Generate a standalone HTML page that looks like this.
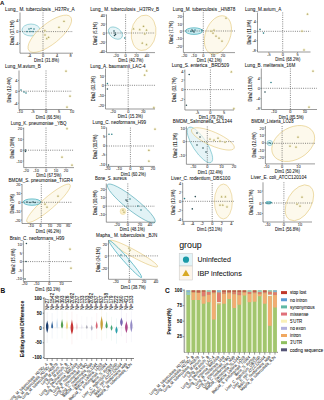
<!DOCTYPE html>
<html><head><meta charset="utf-8"><style>html,body{margin:0;padding:0;background:#fff;}svg{display:block;}text{font-family:"Liberation Sans", sans-serif;stroke:currentColor;stroke-width:0.05px;} .t{}</style></head>
<body><svg width="324" height="400" viewBox="0 0 324 400">
<rect width="324" height="400" fill="#fff"/>
<text transform="translate(0 5.3)" font-size="6.0" text-anchor="start" fill="#111" color="#111" font-weight="bold" font-style="normal">A</text>
<ellipse cx="31" cy="30" rx="9" ry="6" transform="rotate(0 31 30)" fill="#e6f4f7" fill-opacity="1.0" stroke="#4cb0bc" stroke-width="0.5"/>
<ellipse cx="49.8" cy="33.8" rx="26.8" ry="10.3" transform="rotate(-39 49.8 33.8)" fill="#fdf9ec" fill-opacity="1.0" stroke="#dfbf66" stroke-width="0.5"/>
<line x1="43" y1="12.5" x2="43" y2="53.2" stroke="#3a3a3a" stroke-width="0.65" stroke-dasharray="0.95 1.25"/>
<line x1="20" y1="31.6" x2="73" y2="31.6" stroke="#3a3a3a" stroke-width="0.65" stroke-dasharray="0.95 1.25"/>
<circle cx="29" cy="29" r="0.8" fill="#2f8088"/>
<circle cx="31" cy="28.5" r="0.8" fill="#2f8088"/>
<circle cx="34" cy="29" r="0.8" fill="#2f8088"/>
<circle cx="27" cy="31.6" r="0.8" fill="#2f8088"/>
<circle cx="30" cy="31.6" r="0.8" fill="#2f8088"/>
<circle cx="33" cy="31.6" r="0.8" fill="#2f8088"/>
<circle cx="44.9" cy="30.4" r="1.5" fill="#f3efc8" fill-opacity="0.7"/>
<polygon points="43.949999999999996,31.2 45.85,31.2 44.9,29.45" fill="#b0a468"/>
<circle cx="45" cy="34.8" r="1.5" fill="#f3efc8" fill-opacity="0.7"/>
<polygon points="44.05,35.599999999999994 45.95,35.599999999999994 45,33.849999999999994" fill="#b0a468"/>
<circle cx="46.8" cy="38.5" r="1.5" fill="#f3efc8" fill-opacity="0.7"/>
<polygon points="45.849999999999994,39.3 47.75,39.3 46.8,37.55" fill="#b0a468"/>
<circle cx="48.6" cy="37.2" r="1.5" fill="#f3efc8" fill-opacity="0.7"/>
<polygon points="47.65,38.0 49.550000000000004,38.0 48.6,36.25" fill="#b0a468"/>
<circle cx="64" cy="21.2" r="1.5" fill="#f3efc8" fill-opacity="0.7"/>
<polygon points="63.05,22.0 64.95,22.0 64,20.25" fill="#b0a468"/>
<circle cx="59" cy="27.3" r="1.5" fill="#f3efc8" fill-opacity="0.7"/>
<polygon points="58.05,28.1 59.95,28.1 59,26.35" fill="#b0a468"/>
<path d="M20 12.5 V53.2 H73" fill="none" stroke="#555" stroke-width="0.6"/>
<line x1="19" y1="20" x2="20" y2="20" stroke="#555" stroke-width="0.5"/>
<text transform="translate(18.5 21.5) scale(1 1.12)" font-size="3.9" text-anchor="end" fill="#333" color="#333" font-weight="normal" font-style="normal">4</text>
<line x1="19" y1="31.6" x2="20" y2="31.6" stroke="#555" stroke-width="0.5"/>
<text transform="translate(18.5 33.1) scale(1 1.12)" font-size="3.9" text-anchor="end" fill="#333" color="#333" font-weight="normal" font-style="normal">0</text>
<line x1="19" y1="43.5" x2="20" y2="43.5" stroke="#555" stroke-width="0.5"/>
<text transform="translate(18.5 45.0) scale(1 1.12)" font-size="3.9" text-anchor="end" fill="#333" color="#333" font-weight="normal" font-style="normal">-4</text>
<line x1="29.4" y1="53.2" x2="29.4" y2="54.2" stroke="#555" stroke-width="0.5"/>
<text transform="translate(29.4 57.1) scale(1 1.12)" font-size="3.9" text-anchor="middle" fill="#333" color="#333" font-weight="normal" font-style="normal">-4</text>
<line x1="43" y1="53.2" x2="43" y2="54.2" stroke="#555" stroke-width="0.5"/>
<text transform="translate(43 57.1) scale(1 1.12)" font-size="3.9" text-anchor="middle" fill="#333" color="#333" font-weight="normal" font-style="normal">0</text>
<line x1="57" y1="53.2" x2="57" y2="54.2" stroke="#555" stroke-width="0.5"/>
<text transform="translate(57 57.1) scale(1 1.12)" font-size="3.9" text-anchor="middle" fill="#333" color="#333" font-weight="normal" font-style="normal">4</text>
<line x1="70.5" y1="53.2" x2="70.5" y2="54.2" stroke="#555" stroke-width="0.5"/>
<text transform="translate(70.5 57.1) scale(1 1.12)" font-size="3.9" text-anchor="middle" fill="#333" color="#333" font-weight="normal" font-style="normal">8</text>
<text transform="translate(5.1000000000000005 11.35)" font-size="4.75" text-anchor="start" fill="#111" color="#111" font-weight="normal" font-style="normal" textLength="69.60" lengthAdjust="spacingAndGlyphs">Lung_ M. tuberculosis _H37Rv_A</text>
<text transform="translate(46.5 62.400000000000006) scale(1 1.2)" font-size="4.1" text-anchor="middle" fill="#111" color="#111" font-weight="normal" font-style="normal">Dim1 (31.8%)</text>
<text transform="translate(13.8 32.85) rotate(-90) scale(1 1.2)" font-size="4.1" text-anchor="middle" fill="#111" color="#111" font-weight="normal" font-style="normal">Dim2 (17.1%)</text>
<ellipse cx="115.4" cy="33.1" rx="7.8" ry="5.2" transform="rotate(35 115.4 33.1)" fill="#e6f4f7" fill-opacity="1.0" stroke="#4cb0bc" stroke-width="0.5"/>
<ellipse cx="143.6" cy="32.8" rx="12.3" ry="17.8" transform="rotate(8 143.6 32.8)" fill="#fdf9ec" fill-opacity="1.0" stroke="#dfbf66" stroke-width="0.5"/>
<line x1="125.6" y1="14.5" x2="125.6" y2="52.6" stroke="#3a3a3a" stroke-width="0.65" stroke-dasharray="0.95 1.25"/>
<line x1="106.5" y1="33" x2="155" y2="33" stroke="#3a3a3a" stroke-width="0.65" stroke-dasharray="0.95 1.25"/>
<circle cx="114" cy="31" r="0.8" fill="#2b4f55"/>
<circle cx="115" cy="33" r="0.8" fill="#2b4f55"/>
<circle cx="115.5" cy="34.5" r="0.8" fill="#2b4f55"/>
<circle cx="114.5" cy="35.5" r="0.8" fill="#2b4f55"/>
<circle cx="124.75" cy="38" r="0.8" fill="#2f8088"/>
<circle cx="133.5" cy="28.75" r="1.5" fill="#f3efc8" fill-opacity="0.7"/>
<polygon points="132.55,29.55 134.45,29.55 133.5,27.8" fill="#b0a468"/>
<circle cx="139.75" cy="29.5" r="1.5" fill="#f3efc8" fill-opacity="0.7"/>
<polygon points="138.8,30.3 140.7,30.3 139.75,28.55" fill="#b0a468"/>
<circle cx="143.5" cy="26.25" r="1.5" fill="#f3efc8" fill-opacity="0.7"/>
<polygon points="142.55,27.05 144.45,27.05 143.5,25.3" fill="#b0a468"/>
<circle cx="146.5" cy="30" r="1.5" fill="#f3efc8" fill-opacity="0.7"/>
<polygon points="145.55,30.8 147.45,30.8 146.5,29.05" fill="#b0a468"/>
<circle cx="144.75" cy="33.75" r="1.5" fill="#f3efc8" fill-opacity="0.7"/>
<polygon points="143.8,34.55 145.7,34.55 144.75,32.8" fill="#b0a468"/>
<circle cx="142.25" cy="43" r="1.5" fill="#f3efc8" fill-opacity="0.7"/>
<polygon points="141.3,43.8 143.2,43.8 142.25,42.05" fill="#b0a468"/>
<circle cx="146.5" cy="44.5" r="1.5" fill="#f3efc8" fill-opacity="0.7"/>
<polygon points="145.55,45.3 147.45,45.3 146.5,43.55" fill="#b0a468"/>
<path d="M106.5 14.5 V52.6 H155" fill="none" stroke="#555" stroke-width="0.6"/>
<line x1="105.5" y1="15" x2="106.5" y2="15" stroke="#555" stroke-width="0.5"/>
<text transform="translate(105.0 16.5) scale(1 1.12)" font-size="3.9" text-anchor="end" fill="#333" color="#333" font-weight="normal" font-style="normal">40</text>
<line x1="105.5" y1="24" x2="106.5" y2="24" stroke="#555" stroke-width="0.5"/>
<text transform="translate(105.0 25.5) scale(1 1.12)" font-size="3.9" text-anchor="end" fill="#333" color="#333" font-weight="normal" font-style="normal">20</text>
<line x1="105.5" y1="33" x2="106.5" y2="33" stroke="#555" stroke-width="0.5"/>
<text transform="translate(105.0 34.5) scale(1 1.12)" font-size="3.9" text-anchor="end" fill="#333" color="#333" font-weight="normal" font-style="normal">0</text>
<line x1="105.5" y1="42" x2="106.5" y2="42" stroke="#555" stroke-width="0.5"/>
<text transform="translate(105.0 43.5) scale(1 1.12)" font-size="3.9" text-anchor="end" fill="#333" color="#333" font-weight="normal" font-style="normal">-20</text>
<line x1="105.5" y1="51.5" x2="106.5" y2="51.5" stroke="#555" stroke-width="0.5"/>
<text transform="translate(105.0 53.0) scale(1 1.12)" font-size="3.9" text-anchor="end" fill="#333" color="#333" font-weight="normal" font-style="normal">-40</text>
<line x1="116" y1="52.6" x2="116" y2="53.6" stroke="#555" stroke-width="0.5"/>
<text transform="translate(116 56.5) scale(1 1.12)" font-size="3.9" text-anchor="middle" fill="#333" color="#333" font-weight="normal" font-style="normal">-20</text>
<line x1="125.6" y1="52.6" x2="125.6" y2="53.6" stroke="#555" stroke-width="0.5"/>
<text transform="translate(125.6 56.5) scale(1 1.12)" font-size="3.9" text-anchor="middle" fill="#333" color="#333" font-weight="normal" font-style="normal">0</text>
<line x1="136.4" y1="52.6" x2="136.4" y2="53.6" stroke="#555" stroke-width="0.5"/>
<text transform="translate(136.4 56.5) scale(1 1.12)" font-size="3.9" text-anchor="middle" fill="#333" color="#333" font-weight="normal" font-style="normal">20</text>
<line x1="147" y1="52.6" x2="147" y2="53.6" stroke="#555" stroke-width="0.5"/>
<text transform="translate(147 56.5) scale(1 1.12)" font-size="3.9" text-anchor="middle" fill="#333" color="#333" font-weight="normal" font-style="normal">40</text>
<text transform="translate(90.2 11.25)" font-size="4.75" text-anchor="start" fill="#111" color="#111" font-weight="normal" font-style="normal" textLength="68.90" lengthAdjust="spacingAndGlyphs">Lung_ M. tuberculosis _H37Rv_B</text>
<text transform="translate(130.75 61.8) scale(1 1.2)" font-size="4.1" text-anchor="middle" fill="#111" color="#111" font-weight="normal" font-style="normal">Dim1 (40.7%)</text>
<text transform="translate(96.7 33.55) rotate(-90) scale(1 1.2)" font-size="4.1" text-anchor="middle" fill="#111" color="#111" font-weight="normal" font-style="normal">Dim2 (5.1%)</text>
<ellipse cx="194" cy="31.1" rx="8.6" ry="3.3" transform="rotate(0 194 31.1)" fill="#c8eaf0" fill-opacity="1.0" stroke="#30a6b4" stroke-width="0.65"/>
<ellipse cx="217.9" cy="35" rx="12.5" ry="20" transform="rotate(20 217.9 35)" fill="#fdf9ec" fill-opacity="1.0" stroke="#dfbf66" stroke-width="0.5"/>
<line x1="203.3" y1="12.4" x2="203.3" y2="52.6" stroke="#3a3a3a" stroke-width="0.65" stroke-dasharray="0.95 1.25"/>
<line x1="183.4" y1="31" x2="235" y2="31" stroke="#3a3a3a" stroke-width="0.65" stroke-dasharray="0.95 1.25"/>
<circle cx="192" cy="30" r="0.8" fill="#2b4f55"/>
<circle cx="193" cy="31" r="0.8" fill="#2b4f55"/>
<circle cx="194" cy="32" r="0.8" fill="#2b4f55"/>
<circle cx="191" cy="31.5" r="0.8" fill="#2f8088"/>
<circle cx="195" cy="30" r="0.8" fill="#2f8088"/>
<circle cx="202" cy="30" r="0.8" fill="#2f8088"/>
<circle cx="211" cy="31" r="1.5" fill="#f3efc8" fill-opacity="0.7"/>
<polygon points="210.05,31.8 211.95,31.8 211,30.05" fill="#b0a468"/>
<circle cx="214" cy="30" r="1.5" fill="#f3efc8" fill-opacity="0.7"/>
<polygon points="213.05,30.8 214.95,30.8 214,29.05" fill="#b0a468"/>
<circle cx="216" cy="36" r="1.5" fill="#f3efc8" fill-opacity="0.7"/>
<polygon points="215.05,36.8 216.95,36.8 216,35.05" fill="#b0a468"/>
<circle cx="219" cy="38" r="1.5" fill="#f3efc8" fill-opacity="0.7"/>
<polygon points="218.05,38.8 219.95,38.8 219,37.05" fill="#b0a468"/>
<circle cx="222" cy="41" r="1.5" fill="#f3efc8" fill-opacity="0.7"/>
<polygon points="221.05,41.8 222.95,41.8 222,40.05" fill="#b0a468"/>
<circle cx="226" cy="18" r="1.5" fill="#f3efc8" fill-opacity="0.7"/>
<polygon points="225.05,18.8 226.95,18.8 226,17.05" fill="#b0a468"/>
<circle cx="213" cy="33" r="1.5" fill="#f3efc8" fill-opacity="0.7"/>
<polygon points="212.05,33.8 213.95,33.8 213,32.05" fill="#b0a468"/>
<path d="M183.4 12.4 V52.6 H235" fill="none" stroke="#555" stroke-width="0.6"/>
<line x1="182.4" y1="16.6" x2="183.4" y2="16.6" stroke="#555" stroke-width="0.5"/>
<text transform="translate(181.9 18.1) scale(1 1.12)" font-size="3.9" text-anchor="end" fill="#333" color="#333" font-weight="normal" font-style="normal">20</text>
<line x1="182.4" y1="24" x2="183.4" y2="24" stroke="#555" stroke-width="0.5"/>
<text transform="translate(181.9 25.5) scale(1 1.12)" font-size="3.9" text-anchor="end" fill="#333" color="#333" font-weight="normal" font-style="normal">10</text>
<line x1="182.4" y1="31" x2="183.4" y2="31" stroke="#555" stroke-width="0.5"/>
<text transform="translate(181.9 32.5) scale(1 1.12)" font-size="3.9" text-anchor="end" fill="#333" color="#333" font-weight="normal" font-style="normal">0</text>
<line x1="182.4" y1="38.6" x2="183.4" y2="38.6" stroke="#555" stroke-width="0.5"/>
<text transform="translate(181.9 40.1) scale(1 1.12)" font-size="3.9" text-anchor="end" fill="#333" color="#333" font-weight="normal" font-style="normal">-10</text>
<line x1="182.4" y1="46" x2="183.4" y2="46" stroke="#555" stroke-width="0.5"/>
<text transform="translate(181.9 47.5) scale(1 1.12)" font-size="3.9" text-anchor="end" fill="#333" color="#333" font-weight="normal" font-style="normal">-20</text>
<line x1="184.4" y1="52.6" x2="184.4" y2="53.6" stroke="#555" stroke-width="0.5"/>
<text transform="translate(184.4 56.5) scale(1 1.12)" font-size="3.9" text-anchor="middle" fill="#333" color="#333" font-weight="normal" font-style="normal">-20</text>
<line x1="194" y1="52.6" x2="194" y2="53.6" stroke="#555" stroke-width="0.5"/>
<text transform="translate(194 56.5) scale(1 1.12)" font-size="3.9" text-anchor="middle" fill="#333" color="#333" font-weight="normal" font-style="normal">-10</text>
<line x1="203.4" y1="52.6" x2="203.4" y2="53.6" stroke="#555" stroke-width="0.5"/>
<text transform="translate(203.4 56.5) scale(1 1.12)" font-size="3.9" text-anchor="middle" fill="#333" color="#333" font-weight="normal" font-style="normal">0</text>
<line x1="213" y1="52.6" x2="213" y2="53.6" stroke="#555" stroke-width="0.5"/>
<text transform="translate(213 56.5) scale(1 1.12)" font-size="3.9" text-anchor="middle" fill="#333" color="#333" font-weight="normal" font-style="normal">10</text>
<line x1="223" y1="52.6" x2="223" y2="53.6" stroke="#555" stroke-width="0.5"/>
<text transform="translate(223 56.5) scale(1 1.12)" font-size="3.9" text-anchor="middle" fill="#333" color="#333" font-weight="normal" font-style="normal">20</text>
<text transform="translate(172.79999999999998 11.05)" font-size="4.75" text-anchor="start" fill="#111" color="#111" font-weight="normal" font-style="normal" textLength="62.50" lengthAdjust="spacingAndGlyphs">Lung_M. tuberculosis _HN878</text>
<text transform="translate(209.2 61.8) scale(1 1.2)" font-size="4.1" text-anchor="middle" fill="#111" color="#111" font-weight="normal" font-style="normal">Dim1 (42.1%)</text>
<text transform="translate(172.7 32.5) rotate(-90) scale(1 1.2)" font-size="4.1" text-anchor="middle" fill="#111" color="#111" font-weight="normal" font-style="normal">Dim2 (7.7%)</text>
<line x1="282.7" y1="12.5" x2="282.7" y2="52" stroke="#3a3a3a" stroke-width="0.65" stroke-dasharray="0.95 1.25"/>
<line x1="257.5" y1="31.3" x2="310.5" y2="31.3" stroke="#3a3a3a" stroke-width="0.65" stroke-dasharray="0.95 1.25"/>
<circle cx="260" cy="29.4" r="0.8" fill="#2f8088"/>
<circle cx="263.5" cy="33.1" r="0.8" fill="#2f8088"/>
<circle cx="307.5" cy="14" r="1.5" fill="#f3efc8" fill-opacity="0.7"/>
<polygon points="306.55,14.8 308.45,14.8 307.5,13.05" fill="#b0a468"/>
<circle cx="302" cy="31" r="1.5" fill="#f3efc8" fill-opacity="0.7"/>
<polygon points="301.05,31.8 302.95,31.8 302,30.05" fill="#b0a468"/>
<circle cx="304" cy="49.8" r="1.5" fill="#f3efc8" fill-opacity="0.7"/>
<polygon points="303.05,50.599999999999994 304.95,50.599999999999994 304,48.849999999999994" fill="#b0a468"/>
<path d="M257.5 12.5 V52 H310.5" fill="none" stroke="#555" stroke-width="0.6"/>
<line x1="256.5" y1="21.9" x2="257.5" y2="21.9" stroke="#555" stroke-width="0.5"/>
<text transform="translate(256.0 23.4) scale(1 1.12)" font-size="3.9" text-anchor="end" fill="#333" color="#333" font-weight="normal" font-style="normal">4</text>
<line x1="256.5" y1="31.3" x2="257.5" y2="31.3" stroke="#555" stroke-width="0.5"/>
<text transform="translate(256.0 32.8) scale(1 1.12)" font-size="3.9" text-anchor="end" fill="#333" color="#333" font-weight="normal" font-style="normal">0</text>
<line x1="256.5" y1="40.6" x2="257.5" y2="40.6" stroke="#555" stroke-width="0.5"/>
<text transform="translate(256.0 42.1) scale(1 1.12)" font-size="3.9" text-anchor="end" fill="#333" color="#333" font-weight="normal" font-style="normal">-4</text>
<line x1="256.5" y1="50.6" x2="257.5" y2="50.6" stroke="#555" stroke-width="0.5"/>
<text transform="translate(256.0 52.1) scale(1 1.12)" font-size="3.9" text-anchor="end" fill="#333" color="#333" font-weight="normal" font-style="normal">-8</text>
<line x1="268.9" y1="52" x2="268.9" y2="53" stroke="#555" stroke-width="0.5"/>
<text transform="translate(268.9 55.9) scale(1 1.12)" font-size="3.9" text-anchor="middle" fill="#333" color="#333" font-weight="normal" font-style="normal">-5</text>
<line x1="282.8" y1="52" x2="282.8" y2="53" stroke="#555" stroke-width="0.5"/>
<text transform="translate(282.8 55.9) scale(1 1.12)" font-size="3.9" text-anchor="middle" fill="#333" color="#333" font-weight="normal" font-style="normal">0</text>
<line x1="297.6" y1="52" x2="297.6" y2="53" stroke="#555" stroke-width="0.5"/>
<text transform="translate(297.6 55.9) scale(1 1.12)" font-size="3.9" text-anchor="middle" fill="#333" color="#333" font-weight="normal" font-style="normal">5</text>
<text transform="translate(245.0 10.55)" font-size="4.75" text-anchor="start" fill="#111" color="#111" font-weight="normal" font-style="normal" textLength="36.30" lengthAdjust="spacingAndGlyphs">Lung_M.avium_A</text>
<text transform="translate(287.8 61.2) scale(1 1.2)" font-size="4.1" text-anchor="middle" fill="#111" color="#111" font-weight="normal" font-style="normal">Dim1 (68.2%)</text>
<text transform="translate(250.8 32.25) rotate(-90) scale(1 1.2)" font-size="4.1" text-anchor="middle" fill="#111" color="#111" font-weight="normal" font-style="normal">Dim2 (11.9%)</text>
<line x1="46" y1="70.5" x2="46" y2="109.5" stroke="#3a3a3a" stroke-width="0.65" stroke-dasharray="0.95 1.25"/>
<line x1="19" y1="91.2" x2="72" y2="91.2" stroke="#3a3a3a" stroke-width="0.65" stroke-dasharray="0.95 1.25"/>
<circle cx="21" cy="90" r="0.8" fill="#2f8088"/>
<circle cx="24" cy="92" r="0.8" fill="#2f8088"/>
<circle cx="26" cy="93" r="0.8" fill="#2f8088"/>
<circle cx="66" cy="71" r="1.5" fill="#f3efc8" fill-opacity="0.7"/>
<polygon points="65.05,71.8 66.95,71.8 66,70.05" fill="#b0a468"/>
<circle cx="70" cy="96" r="1.5" fill="#f3efc8" fill-opacity="0.7"/>
<polygon points="69.05,96.8 70.95,96.8 70,95.05" fill="#b0a468"/>
<circle cx="67" cy="107" r="1.5" fill="#f3efc8" fill-opacity="0.7"/>
<polygon points="66.05,107.8 67.95,107.8 67,106.05" fill="#b0a468"/>
<path d="M19 70.5 V109.5 H72" fill="none" stroke="#555" stroke-width="0.6"/>
<line x1="18" y1="80.5" x2="19" y2="80.5" stroke="#555" stroke-width="0.5"/>
<text transform="translate(17.5 82.0) scale(1 1.12)" font-size="3.9" text-anchor="end" fill="#333" color="#333" font-weight="normal" font-style="normal">4</text>
<line x1="18" y1="91.3" x2="19" y2="91.3" stroke="#555" stroke-width="0.5"/>
<text transform="translate(17.5 92.8) scale(1 1.12)" font-size="3.9" text-anchor="end" fill="#333" color="#333" font-weight="normal" font-style="normal">0</text>
<line x1="18" y1="103.2" x2="19" y2="103.2" stroke="#555" stroke-width="0.5"/>
<text transform="translate(17.5 104.7) scale(1 1.12)" font-size="3.9" text-anchor="end" fill="#333" color="#333" font-weight="normal" font-style="normal">-4</text>
<line x1="20" y1="109.5" x2="20" y2="110.5" stroke="#555" stroke-width="0.5"/>
<text transform="translate(20 113.4) scale(1 1.12)" font-size="3.9" text-anchor="middle" fill="#333" color="#333" font-weight="normal" font-style="normal">-10</text>
<line x1="33" y1="109.5" x2="33" y2="110.5" stroke="#555" stroke-width="0.5"/>
<text transform="translate(33 113.4) scale(1 1.12)" font-size="3.9" text-anchor="middle" fill="#333" color="#333" font-weight="normal" font-style="normal">-5</text>
<line x1="46" y1="109.5" x2="46" y2="110.5" stroke="#555" stroke-width="0.5"/>
<text transform="translate(46 113.4) scale(1 1.12)" font-size="3.9" text-anchor="middle" fill="#333" color="#333" font-weight="normal" font-style="normal">0</text>
<line x1="59" y1="109.5" x2="59" y2="110.5" stroke="#555" stroke-width="0.5"/>
<text transform="translate(59 113.4) scale(1 1.12)" font-size="3.9" text-anchor="middle" fill="#333" color="#333" font-weight="normal" font-style="normal">5</text>
<line x1="72" y1="109.5" x2="72" y2="110.5" stroke="#555" stroke-width="0.5"/>
<text transform="translate(72 113.4) scale(1 1.12)" font-size="3.9" text-anchor="middle" fill="#333" color="#333" font-weight="normal" font-style="normal">10</text>
<text transform="translate(5.0 67.65)" font-size="4.75" text-anchor="start" fill="#111" color="#111" font-weight="normal" font-style="normal" textLength="35.70" lengthAdjust="spacingAndGlyphs">Lung_M.avium_B</text>
<text transform="translate(48.3 118.7) scale(1 1.2)" font-size="4.1" text-anchor="middle" fill="#111" color="#111" font-weight="normal" font-style="normal">Dim1 (66.5%)</text>
<text transform="translate(11.1 90.0) rotate(-90) scale(1 1.2)" font-size="4.1" text-anchor="middle" fill="#111" color="#111" font-weight="normal" font-style="normal">Dim2 (12.4%)</text>
<line x1="128.2" y1="68.5" x2="128.2" y2="109" stroke="#3a3a3a" stroke-width="0.65" stroke-dasharray="0.95 1.25"/>
<line x1="105.5" y1="85.3" x2="155" y2="85.3" stroke="#3a3a3a" stroke-width="0.65" stroke-dasharray="0.95 1.25"/>
<circle cx="107.4" cy="83.6" r="0.8" fill="#2f8088"/>
<circle cx="107.4" cy="89" r="0.8" fill="#2b4f55"/>
<circle cx="146.7" cy="70.6" r="1.5" fill="#f3efc8" fill-opacity="0.7"/>
<polygon points="145.75,71.39999999999999 147.64999999999998,71.39999999999999 146.7,69.64999999999999" fill="#b0a468"/>
<circle cx="144.6" cy="75" r="1.5" fill="#f3efc8" fill-opacity="0.7"/>
<polygon points="143.65,75.8 145.54999999999998,75.8 144.6,74.05" fill="#b0a468"/>
<circle cx="153.9" cy="107.4" r="1.5" fill="#f3efc8" fill-opacity="0.7"/>
<polygon points="152.95000000000002,108.2 154.85,108.2 153.9,106.45" fill="#b0a468"/>
<path d="M105.5 68.5 V109 H155" fill="none" stroke="#555" stroke-width="0.6"/>
<line x1="104.5" y1="76" x2="105.5" y2="76" stroke="#555" stroke-width="0.5"/>
<text transform="translate(104.0 77.5) scale(1 1.12)" font-size="3.9" text-anchor="end" fill="#333" color="#333" font-weight="normal" font-style="normal">10</text>
<line x1="104.5" y1="85.3" x2="105.5" y2="85.3" stroke="#555" stroke-width="0.5"/>
<text transform="translate(104.0 86.8) scale(1 1.12)" font-size="3.9" text-anchor="end" fill="#333" color="#333" font-weight="normal" font-style="normal">0</text>
<line x1="104.5" y1="95.5" x2="105.5" y2="95.5" stroke="#555" stroke-width="0.5"/>
<text transform="translate(104.0 97.0) scale(1 1.12)" font-size="3.9" text-anchor="end" fill="#333" color="#333" font-weight="normal" font-style="normal">-10</text>
<line x1="104.5" y1="105.2" x2="105.5" y2="105.2" stroke="#555" stroke-width="0.5"/>
<text transform="translate(104.0 106.7) scale(1 1.12)" font-size="3.9" text-anchor="end" fill="#333" color="#333" font-weight="normal" font-style="normal">-20</text>
<line x1="113" y1="109" x2="113" y2="110" stroke="#555" stroke-width="0.5"/>
<text transform="translate(113 112.9) scale(1 1.12)" font-size="3.9" text-anchor="middle" fill="#333" color="#333" font-weight="normal" font-style="normal">-20</text>
<line x1="128.2" y1="109" x2="128.2" y2="110" stroke="#555" stroke-width="0.5"/>
<text transform="translate(128.2 112.9) scale(1 1.12)" font-size="3.9" text-anchor="middle" fill="#333" color="#333" font-weight="normal" font-style="normal">0</text>
<line x1="143.3" y1="109" x2="143.3" y2="110" stroke="#555" stroke-width="0.5"/>
<text transform="translate(143.3 112.9) scale(1 1.12)" font-size="3.9" text-anchor="middle" fill="#333" color="#333" font-weight="normal" font-style="normal">20</text>
<text transform="translate(90.3 67.55)" font-size="4.75" text-anchor="start" fill="#111" color="#111" font-weight="normal" font-style="normal" textLength="55.30" lengthAdjust="spacingAndGlyphs">Lung_A. baumannii_LAC-4</text>
<text transform="translate(130.25 118.2) scale(1 1.2)" font-size="4.1" text-anchor="middle" fill="#111" color="#111" font-weight="normal" font-style="normal">Dim1 (15.3%)</text>
<text transform="translate(95 88.75) rotate(-90) scale(1 1.2)" font-size="4.1" text-anchor="middle" fill="#111" color="#111" font-weight="normal" font-style="normal">Dim2 (12.3%)</text>
<line x1="210.4" y1="69.6" x2="210.4" y2="110" stroke="#3a3a3a" stroke-width="0.65" stroke-dasharray="0.95 1.25"/>
<line x1="184.9" y1="89.6" x2="234" y2="89.6" stroke="#3a3a3a" stroke-width="0.65" stroke-dasharray="0.95 1.25"/>
<circle cx="189.2" cy="74.5" r="0.8" fill="#2b4f55"/>
<circle cx="186.4" cy="105.2" r="0.8" fill="#2b4f55"/>
<circle cx="231.3" cy="71.7" r="1.5" fill="#f3efc8" fill-opacity="0.7"/>
<polygon points="230.35000000000002,72.5 232.25,72.5 231.3,70.75" fill="#b0a468"/>
<circle cx="233.9" cy="108.4" r="1.5" fill="#f3efc8" fill-opacity="0.7"/>
<polygon points="232.95000000000002,109.2 234.85,109.2 233.9,107.45" fill="#b0a468"/>
<path d="M184.9 69.6 V110 H234" fill="none" stroke="#555" stroke-width="0.6"/>
<line x1="183.9" y1="71" x2="184.9" y2="71" stroke="#555" stroke-width="0.5"/>
<text transform="translate(183.4 72.5) scale(1 1.12)" font-size="3.9" text-anchor="end" fill="#333" color="#333" font-weight="normal" font-style="normal">4</text>
<line x1="183.9" y1="80" x2="184.9" y2="80" stroke="#555" stroke-width="0.5"/>
<text transform="translate(183.4 81.5) scale(1 1.12)" font-size="3.9" text-anchor="end" fill="#333" color="#333" font-weight="normal" font-style="normal">2</text>
<line x1="183.9" y1="89.6" x2="184.9" y2="89.6" stroke="#555" stroke-width="0.5"/>
<text transform="translate(183.4 91.1) scale(1 1.12)" font-size="3.9" text-anchor="end" fill="#333" color="#333" font-weight="normal" font-style="normal">0</text>
<line x1="183.9" y1="99.5" x2="184.9" y2="99.5" stroke="#555" stroke-width="0.5"/>
<text transform="translate(183.4 101.0) scale(1 1.12)" font-size="3.9" text-anchor="end" fill="#333" color="#333" font-weight="normal" font-style="normal">-2</text>
<line x1="197.4" y1="110" x2="197.4" y2="111" stroke="#555" stroke-width="0.5"/>
<text transform="translate(197.4 113.9) scale(1 1.12)" font-size="3.9" text-anchor="middle" fill="#333" color="#333" font-weight="normal" font-style="normal">-5</text>
<line x1="210.4" y1="110" x2="210.4" y2="111" stroke="#555" stroke-width="0.5"/>
<text transform="translate(210.4 113.9) scale(1 1.12)" font-size="3.9" text-anchor="middle" fill="#333" color="#333" font-weight="normal" font-style="normal">0</text>
<line x1="224" y1="110" x2="224" y2="111" stroke="#555" stroke-width="0.5"/>
<text transform="translate(224 113.9) scale(1 1.12)" font-size="3.9" text-anchor="middle" fill="#333" color="#333" font-weight="normal" font-style="normal">5</text>
<text transform="translate(171.7 67.45)" font-size="4.75" text-anchor="start" fill="#111" color="#111" font-weight="normal" font-style="normal" textLength="57.40" lengthAdjust="spacingAndGlyphs">Lung_S. enterica _BRD509</text>
<text transform="translate(211.2 119.2) scale(1 1.2)" font-size="4.1" text-anchor="middle" fill="#111" color="#111" font-weight="normal" font-style="normal">Dim1 (79.7%)</text>
<text transform="translate(176 89.8) rotate(-90) scale(1 1.2)" font-size="4.1" text-anchor="middle" fill="#111" color="#111" font-weight="normal" font-style="normal">Dim2 (12.7%)</text>
<line x1="290.4" y1="68.5" x2="290.4" y2="109.5" stroke="#3a3a3a" stroke-width="0.65" stroke-dasharray="0.95 1.25"/>
<line x1="261.3" y1="88.3" x2="317" y2="88.3" stroke="#3a3a3a" stroke-width="0.65" stroke-dasharray="0.95 1.25"/>
<circle cx="271" cy="82.5" r="0.8" fill="#2f8088"/>
<circle cx="265" cy="92" r="0.8" fill="#2b4f55"/>
<circle cx="313" cy="71" r="1.5" fill="#f3efc8" fill-opacity="0.7"/>
<polygon points="312.05,71.8 313.95,71.8 313,70.05" fill="#b0a468"/>
<circle cx="309" cy="107" r="1.5" fill="#f3efc8" fill-opacity="0.7"/>
<polygon points="308.05,107.8 309.95,107.8 309,106.05" fill="#b0a468"/>
<path d="M261.3 68.5 V109.5 H317" fill="none" stroke="#555" stroke-width="0.6"/>
<line x1="260.3" y1="78" x2="261.3" y2="78" stroke="#555" stroke-width="0.5"/>
<text transform="translate(259.8 79.5) scale(1 1.12)" font-size="3.9" text-anchor="end" fill="#333" color="#333" font-weight="normal" font-style="normal">4</text>
<line x1="260.3" y1="88.3" x2="261.3" y2="88.3" stroke="#555" stroke-width="0.5"/>
<text transform="translate(259.8 89.8) scale(1 1.12)" font-size="3.9" text-anchor="end" fill="#333" color="#333" font-weight="normal" font-style="normal">0</text>
<line x1="260.3" y1="98.7" x2="261.3" y2="98.7" stroke="#555" stroke-width="0.5"/>
<text transform="translate(259.8 100.2) scale(1 1.12)" font-size="3.9" text-anchor="end" fill="#333" color="#333" font-weight="normal" font-style="normal">-4</text>
<line x1="260.3" y1="108" x2="261.3" y2="108" stroke="#555" stroke-width="0.5"/>
<text transform="translate(259.8 109.5) scale(1 1.12)" font-size="3.9" text-anchor="end" fill="#333" color="#333" font-weight="normal" font-style="normal">-8</text>
<line x1="274" y1="109.5" x2="274" y2="110.5" stroke="#555" stroke-width="0.5"/>
<text transform="translate(274 113.4) scale(1 1.12)" font-size="3.9" text-anchor="middle" fill="#333" color="#333" font-weight="normal" font-style="normal">-10</text>
<line x1="290.2" y1="109.5" x2="290.2" y2="110.5" stroke="#555" stroke-width="0.5"/>
<text transform="translate(290.2 113.4) scale(1 1.12)" font-size="3.9" text-anchor="middle" fill="#333" color="#333" font-weight="normal" font-style="normal">0</text>
<line x1="304.8" y1="109.5" x2="304.8" y2="110.5" stroke="#555" stroke-width="0.5"/>
<text transform="translate(304.8 113.4) scale(1 1.12)" font-size="3.9" text-anchor="middle" fill="#333" color="#333" font-weight="normal" font-style="normal">10</text>
<text transform="translate(244.7 67.35)" font-size="4.75" text-anchor="start" fill="#111" color="#111" font-weight="normal" font-style="normal" textLength="50.60" lengthAdjust="spacingAndGlyphs">Lung_B. melitensis_16M</text>
<text transform="translate(291.2 118.7) scale(1 1.2)" font-size="4.1" text-anchor="middle" fill="#111" color="#111" font-weight="normal" font-style="normal">Dim1 (85.5%)</text>
<text transform="translate(252 89.0) rotate(-90) scale(1 1.2)" font-size="4.1" text-anchor="middle" fill="#111" color="#111" font-weight="normal" font-style="normal">Dim2 (10.8%)</text>
<line x1="46" y1="127.6" x2="46" y2="167.6" stroke="#3a3a3a" stroke-width="0.65" stroke-dasharray="0.95 1.25"/>
<line x1="23.7" y1="150.2" x2="74" y2="150.2" stroke="#3a3a3a" stroke-width="0.65" stroke-dasharray="0.95 1.25"/>
<circle cx="25.5" cy="150" r="0.8" fill="#2b4f55"/>
<circle cx="25.5" cy="151.5" r="0.8" fill="#2b4f55"/>
<circle cx="67" cy="128.5" r="1.5" fill="#f3efc8" fill-opacity="0.7"/>
<polygon points="66.05,129.3 67.95,129.3 67,127.55" fill="#b0a468"/>
<circle cx="62" cy="157" r="1.5" fill="#f3efc8" fill-opacity="0.7"/>
<polygon points="61.05,157.8 62.95,157.8 62,156.05" fill="#b0a468"/>
<circle cx="72" cy="165" r="1.5" fill="#f3efc8" fill-opacity="0.7"/>
<polygon points="71.05,165.8 72.95,165.8 72,164.05" fill="#b0a468"/>
<path d="M23.7 127.6 V167.6 H74" fill="none" stroke="#555" stroke-width="0.6"/>
<line x1="22.7" y1="128.6" x2="23.7" y2="128.6" stroke="#555" stroke-width="0.5"/>
<text transform="translate(22.2 130.1) scale(1 1.12)" font-size="3.9" text-anchor="end" fill="#333" color="#333" font-weight="normal" font-style="normal">20</text>
<line x1="22.7" y1="139.4" x2="23.7" y2="139.4" stroke="#555" stroke-width="0.5"/>
<text transform="translate(22.2 140.9) scale(1 1.12)" font-size="3.9" text-anchor="end" fill="#333" color="#333" font-weight="normal" font-style="normal">10</text>
<line x1="22.7" y1="150.2" x2="23.7" y2="150.2" stroke="#555" stroke-width="0.5"/>
<text transform="translate(22.2 151.7) scale(1 1.12)" font-size="3.9" text-anchor="end" fill="#333" color="#333" font-weight="normal" font-style="normal">0</text>
<line x1="22.7" y1="161" x2="23.7" y2="161" stroke="#555" stroke-width="0.5"/>
<text transform="translate(22.2 162.5) scale(1 1.12)" font-size="3.9" text-anchor="end" fill="#333" color="#333" font-weight="normal" font-style="normal">-10</text>
<line x1="26" y1="167.6" x2="26" y2="168.6" stroke="#555" stroke-width="0.5"/>
<text transform="translate(26 171.5) scale(1 1.12)" font-size="3.9" text-anchor="middle" fill="#333" color="#333" font-weight="normal" font-style="normal">-20</text>
<line x1="36" y1="167.6" x2="36" y2="168.6" stroke="#555" stroke-width="0.5"/>
<text transform="translate(36 171.5) scale(1 1.12)" font-size="3.9" text-anchor="middle" fill="#333" color="#333" font-weight="normal" font-style="normal">-10</text>
<line x1="46" y1="167.6" x2="46" y2="168.6" stroke="#555" stroke-width="0.5"/>
<text transform="translate(46 171.5) scale(1 1.12)" font-size="3.9" text-anchor="middle" fill="#333" color="#333" font-weight="normal" font-style="normal">0</text>
<line x1="56" y1="167.6" x2="56" y2="168.6" stroke="#555" stroke-width="0.5"/>
<text transform="translate(56 171.5) scale(1 1.12)" font-size="3.9" text-anchor="middle" fill="#333" color="#333" font-weight="normal" font-style="normal">10</text>
<line x1="66" y1="167.6" x2="66" y2="168.6" stroke="#555" stroke-width="0.5"/>
<text transform="translate(66 171.5) scale(1 1.12)" font-size="3.9" text-anchor="middle" fill="#333" color="#333" font-weight="normal" font-style="normal">20</text>
<text transform="translate(10.799999999999999 125.35)" font-size="4.75" text-anchor="start" fill="#111" color="#111" font-weight="normal" font-style="normal" textLength="55.80" lengthAdjust="spacingAndGlyphs">Lung_K. pneumoniae _YBQ</text>
<text transform="translate(48.85 176.79999999999998) scale(1 1.2)" font-size="4.1" text-anchor="middle" fill="#111" color="#111" font-weight="normal" font-style="normal">Dim1 (67.5%)</text>
<text transform="translate(14 147.6) rotate(-90) scale(1 1.2)" font-size="4.1" text-anchor="middle" fill="#111" color="#111" font-weight="normal" font-style="normal">Dim2 (16%)</text>
<line x1="130.4" y1="127.6" x2="130.4" y2="166.4" stroke="#3a3a3a" stroke-width="0.65" stroke-dasharray="0.95 1.25"/>
<line x1="106.6" y1="146" x2="155" y2="146" stroke="#3a3a3a" stroke-width="0.65" stroke-dasharray="0.95 1.25"/>
<circle cx="109" cy="134.2" r="0.8" fill="#2f8088"/>
<circle cx="111.8" cy="134.2" r="0.8" fill="#2f8088"/>
<circle cx="108.5" cy="165" r="0.8" fill="#2b4f55"/>
<circle cx="155" cy="129" r="1.5" fill="#f3efc8" fill-opacity="0.7"/>
<polygon points="154.05,129.8 155.95,129.8 155,128.05" fill="#b0a468"/>
<circle cx="148.9" cy="150.2" r="1.5" fill="#f3efc8" fill-opacity="0.7"/>
<polygon points="147.95000000000002,151.0 149.85,151.0 148.9,149.25" fill="#b0a468"/>
<circle cx="148.9" cy="161" r="1.5" fill="#f3efc8" fill-opacity="0.7"/>
<polygon points="147.95000000000002,161.8 149.85,161.8 148.9,160.05" fill="#b0a468"/>
<path d="M106.6 127.6 V166.4 H155" fill="none" stroke="#555" stroke-width="0.6"/>
<line x1="105.6" y1="127.8" x2="106.6" y2="127.8" stroke="#555" stroke-width="0.5"/>
<text transform="translate(105.1 129.3) scale(1 1.12)" font-size="3.9" text-anchor="end" fill="#333" color="#333" font-weight="normal" font-style="normal">10</text>
<line x1="105.6" y1="136.4" x2="106.6" y2="136.4" stroke="#555" stroke-width="0.5"/>
<text transform="translate(105.1 137.9) scale(1 1.12)" font-size="3.9" text-anchor="end" fill="#333" color="#333" font-weight="normal" font-style="normal">5</text>
<line x1="105.6" y1="145.8" x2="106.6" y2="145.8" stroke="#555" stroke-width="0.5"/>
<text transform="translate(105.1 147.3) scale(1 1.12)" font-size="3.9" text-anchor="end" fill="#333" color="#333" font-weight="normal" font-style="normal">0</text>
<line x1="105.6" y1="154.9" x2="106.6" y2="154.9" stroke="#555" stroke-width="0.5"/>
<text transform="translate(105.1 156.4) scale(1 1.12)" font-size="3.9" text-anchor="end" fill="#333" color="#333" font-weight="normal" font-style="normal">-5</text>
<line x1="105.6" y1="164.2" x2="106.6" y2="164.2" stroke="#555" stroke-width="0.5"/>
<text transform="translate(105.1 165.7) scale(1 1.12)" font-size="3.9" text-anchor="end" fill="#333" color="#333" font-weight="normal" font-style="normal">-10</text>
<line x1="107.6" y1="166.4" x2="107.6" y2="167.4" stroke="#555" stroke-width="0.5"/>
<text transform="translate(107.6 170.3) scale(1 1.12)" font-size="3.9" text-anchor="middle" fill="#333" color="#333" font-weight="normal" font-style="normal">-20</text>
<line x1="119" y1="166.4" x2="119" y2="167.4" stroke="#555" stroke-width="0.5"/>
<text transform="translate(119 170.3) scale(1 1.12)" font-size="3.9" text-anchor="middle" fill="#333" color="#333" font-weight="normal" font-style="normal">-10</text>
<line x1="130.4" y1="166.4" x2="130.4" y2="167.4" stroke="#555" stroke-width="0.5"/>
<text transform="translate(130.4 170.3) scale(1 1.12)" font-size="3.9" text-anchor="middle" fill="#333" color="#333" font-weight="normal" font-style="normal">0</text>
<line x1="141.6" y1="166.4" x2="141.6" y2="167.4" stroke="#555" stroke-width="0.5"/>
<text transform="translate(141.6 170.3) scale(1 1.12)" font-size="3.9" text-anchor="middle" fill="#333" color="#333" font-weight="normal" font-style="normal">10</text>
<line x1="153" y1="166.4" x2="153" y2="167.4" stroke="#555" stroke-width="0.5"/>
<text transform="translate(153 170.3) scale(1 1.12)" font-size="3.9" text-anchor="middle" fill="#333" color="#333" font-weight="normal" font-style="normal">20</text>
<text transform="translate(92.60000000000001 124.45)" font-size="4.75" text-anchor="start" fill="#111" color="#111" font-weight="normal" font-style="normal" textLength="53.50" lengthAdjust="spacingAndGlyphs">Lung_C. neoformans_H99</text>
<text transform="translate(133.3 175.6) scale(1 1.2)" font-size="4.1" text-anchor="middle" fill="#111" color="#111" font-weight="normal" font-style="normal">Dim1 (60.2%)</text>
<text transform="translate(97.2 147.0) rotate(-90) scale(1 1.2)" font-size="4.1" text-anchor="middle" fill="#111" color="#111" font-weight="normal" font-style="normal">Dim2 (11.5%)</text>
<ellipse cx="199.9" cy="144.9" rx="20.7" ry="7" transform="rotate(57 199.9 144.9)" fill="#e6f4f7" fill-opacity="1.0" stroke="#4cb0bc" stroke-width="0.5"/>
<ellipse cx="212.9" cy="138.9" rx="23.2" ry="6.8" transform="rotate(23.6 212.9 138.9)" fill="#fdf9ec" fill-opacity="0.6" stroke="#dfbf66" stroke-width="0.5"/>
<line x1="207.3" y1="126.5" x2="207.3" y2="164.3" stroke="#3a3a3a" stroke-width="0.65" stroke-dasharray="0.95 1.25"/>
<line x1="186.4" y1="141.6" x2="234" y2="141.6" stroke="#3a3a3a" stroke-width="0.65" stroke-dasharray="0.95 1.25"/>
<circle cx="197" cy="133" r="0.8" fill="#2b4f55"/>
<circle cx="200" cy="137" r="0.8" fill="#2b4f55"/>
<circle cx="197" cy="145" r="0.8" fill="#2b4f55"/>
<circle cx="203" cy="148" r="0.8" fill="#2b4f55"/>
<circle cx="206" cy="152" r="0.8" fill="#2b4f55"/>
<circle cx="210" cy="139" r="1.5" fill="#f3efc8" fill-opacity="0.7"/>
<polygon points="209.05,139.8 210.95,139.8 210,138.05" fill="#b0a468"/>
<circle cx="214" cy="140" r="1.5" fill="#f3efc8" fill-opacity="0.7"/>
<polygon points="213.05,140.8 214.95,140.8 214,139.05" fill="#b0a468"/>
<circle cx="220" cy="141" r="1.5" fill="#f3efc8" fill-opacity="0.7"/>
<polygon points="219.05,141.8 220.95,141.8 220,140.05" fill="#b0a468"/>
<circle cx="218" cy="138" r="1.5" fill="#f3efc8" fill-opacity="0.7"/>
<polygon points="217.05,138.8 218.95,138.8 218,137.05" fill="#b0a468"/>
<circle cx="225" cy="142" r="1.5" fill="#f3efc8" fill-opacity="0.7"/>
<polygon points="224.05,142.8 225.95,142.8 225,141.05" fill="#b0a468"/>
<path d="M186.4 126.5 V164.3 H234" fill="none" stroke="#555" stroke-width="0.6"/>
<line x1="185.4" y1="128.2" x2="186.4" y2="128.2" stroke="#555" stroke-width="0.5"/>
<text transform="translate(184.9 129.7) scale(1 1.12)" font-size="3.9" text-anchor="end" fill="#333" color="#333" font-weight="normal" font-style="normal">10</text>
<line x1="185.4" y1="141.6" x2="186.4" y2="141.6" stroke="#555" stroke-width="0.5"/>
<text transform="translate(184.9 143.1) scale(1 1.12)" font-size="3.9" text-anchor="end" fill="#333" color="#333" font-weight="normal" font-style="normal">0</text>
<line x1="185.4" y1="155.1" x2="186.4" y2="155.1" stroke="#555" stroke-width="0.5"/>
<text transform="translate(184.9 156.6) scale(1 1.12)" font-size="3.9" text-anchor="end" fill="#333" color="#333" font-weight="normal" font-style="normal">-10</text>
<line x1="193.4" y1="164.3" x2="193.4" y2="165.3" stroke="#555" stroke-width="0.5"/>
<text transform="translate(193.4 168.20000000000002) scale(1 1.12)" font-size="3.9" text-anchor="middle" fill="#333" color="#333" font-weight="normal" font-style="normal">-10</text>
<line x1="207.3" y1="164.3" x2="207.3" y2="165.3" stroke="#555" stroke-width="0.5"/>
<text transform="translate(207.3 168.20000000000002) scale(1 1.12)" font-size="3.9" text-anchor="middle" fill="#333" color="#333" font-weight="normal" font-style="normal">0</text>
<line x1="221.5" y1="164.3" x2="221.5" y2="165.3" stroke="#555" stroke-width="0.5"/>
<text transform="translate(221.5 168.20000000000002) scale(1 1.12)" font-size="3.9" text-anchor="middle" fill="#333" color="#333" font-weight="normal" font-style="normal">10</text>
<line x1="234" y1="164.3" x2="234" y2="165.3" stroke="#555" stroke-width="0.5"/>
<text transform="translate(234 168.20000000000002) scale(1 1.12)" font-size="3.9" text-anchor="middle" fill="#333" color="#333" font-weight="normal" font-style="normal">20</text>
<text transform="translate(172.79999999999998 123.05)" font-size="4.75" text-anchor="start" fill="#111" color="#111" font-weight="normal" font-style="normal" textLength="59.40" lengthAdjust="spacingAndGlyphs">BMDM_Salmonella_SL1344</text>
<text transform="translate(210.2 173.5) scale(1 1.2)" font-size="4.1" text-anchor="middle" fill="#111" color="#111" font-weight="normal" font-style="normal">Dim1 (32.4%)</text>
<text transform="translate(177.2 145.4) rotate(-90) scale(1 1.2)" font-size="4.1" text-anchor="middle" fill="#111" color="#111" font-weight="normal" font-style="normal">Dim2 (11.1%)</text>
<ellipse cx="293.2" cy="143.5" rx="23" ry="16" transform="rotate(-30 293.2 143.5)" fill="#fdf9ec" fill-opacity="1.0" stroke="#dfbf66" stroke-width="0.5"/>
<ellipse cx="269.8" cy="143" rx="2.7" ry="2.6" transform="rotate(0 269.8 143)" fill="#e6f4f7" fill-opacity="1.0" stroke="#4cb0bc" stroke-width="0.5"/>
<line x1="282.1" y1="126" x2="282.1" y2="163.9" stroke="#3a3a3a" stroke-width="0.65" stroke-dasharray="0.95 1.25"/>
<line x1="265.4" y1="143.3" x2="315" y2="143.3" stroke="#3a3a3a" stroke-width="0.65" stroke-dasharray="0.95 1.25"/>
<circle cx="269.2" cy="142.8" r="0.8" fill="#2f8088"/>
<circle cx="270.5" cy="143.3" r="0.8" fill="#2f8088"/>
<circle cx="298" cy="137" r="1.5" fill="#f3efc8" fill-opacity="0.7"/>
<polygon points="297.05,137.8 298.95,137.8 298,136.05" fill="#b0a468"/>
<circle cx="290" cy="146" r="1.5" fill="#f3efc8" fill-opacity="0.7"/>
<polygon points="289.05,146.8 290.95,146.8 290,145.05" fill="#b0a468"/>
<circle cx="296" cy="147" r="1.5" fill="#f3efc8" fill-opacity="0.7"/>
<polygon points="295.05,147.8 296.95,147.8 296,146.05" fill="#b0a468"/>
<path d="M265.4 126 V163.9 H315" fill="none" stroke="#555" stroke-width="0.6"/>
<line x1="264.4" y1="128" x2="265.4" y2="128" stroke="#555" stroke-width="0.5"/>
<text transform="translate(263.9 129.5) scale(1 1.12)" font-size="3.9" text-anchor="end" fill="#333" color="#333" font-weight="normal" font-style="normal">20</text>
<line x1="264.4" y1="135" x2="265.4" y2="135" stroke="#555" stroke-width="0.5"/>
<text transform="translate(263.9 136.5) scale(1 1.12)" font-size="3.9" text-anchor="end" fill="#333" color="#333" font-weight="normal" font-style="normal">10</text>
<line x1="264.4" y1="142.7" x2="265.4" y2="142.7" stroke="#555" stroke-width="0.5"/>
<text transform="translate(263.9 144.2) scale(1 1.12)" font-size="3.9" text-anchor="end" fill="#333" color="#333" font-weight="normal" font-style="normal">0</text>
<line x1="264.4" y1="150" x2="265.4" y2="150" stroke="#555" stroke-width="0.5"/>
<text transform="translate(263.9 151.5) scale(1 1.12)" font-size="3.9" text-anchor="end" fill="#333" color="#333" font-weight="normal" font-style="normal">-10</text>
<line x1="264.4" y1="157" x2="265.4" y2="157" stroke="#555" stroke-width="0.5"/>
<text transform="translate(263.9 158.5) scale(1 1.12)" font-size="3.9" text-anchor="end" fill="#333" color="#333" font-weight="normal" font-style="normal">-20</text>
<line x1="266.6" y1="163.9" x2="266.6" y2="164.9" stroke="#555" stroke-width="0.5"/>
<text transform="translate(266.6 167.8) scale(1 1.12)" font-size="3.9" text-anchor="middle" fill="#333" color="#333" font-weight="normal" font-style="normal">-10</text>
<line x1="282.1" y1="163.9" x2="282.1" y2="164.9" stroke="#555" stroke-width="0.5"/>
<text transform="translate(282.1 167.8) scale(1 1.12)" font-size="3.9" text-anchor="middle" fill="#333" color="#333" font-weight="normal" font-style="normal">0</text>
<line x1="298.5" y1="163.9" x2="298.5" y2="164.9" stroke="#555" stroke-width="0.5"/>
<text transform="translate(298.5 167.8) scale(1 1.12)" font-size="3.9" text-anchor="middle" fill="#333" color="#333" font-weight="normal" font-style="normal">10</text>
<text transform="translate(251.29999999999998 122.95)" font-size="4.75" text-anchor="start" fill="#111" color="#111" font-weight="normal" font-style="normal" textLength="42.30" lengthAdjust="spacingAndGlyphs">BMDM_Listeria_LO28</text>
<text transform="translate(287.3 173.1) scale(1 1.2)" font-size="4.1" text-anchor="middle" fill="#111" color="#111" font-weight="normal" font-style="normal">Dim1 (50.2%)</text>
<text transform="translate(256.2 144.95) rotate(-90) scale(1 1.2)" font-size="4.1" text-anchor="middle" fill="#111" color="#111" font-weight="normal" font-style="normal">Dim2 (12.6%)</text>
<ellipse cx="48.5" cy="203.3" rx="28.5" ry="6.0" transform="rotate(-41 48.5 203.3)" fill="#fdf9ec" fill-opacity="1.0" stroke="#dfbf66" stroke-width="0.5"/>
<ellipse cx="32" cy="202.1" rx="8.8" ry="3.2" transform="rotate(0 32 202.1)" fill="#c8eaf0" fill-opacity="1.0" stroke="#30a6b4" stroke-width="0.65"/>
<line x1="41.3" y1="184" x2="41.3" y2="223.5" stroke="#3a3a3a" stroke-width="0.65" stroke-dasharray="0.95 1.25"/>
<line x1="22" y1="202.3" x2="72" y2="202.3" stroke="#3a3a3a" stroke-width="0.65" stroke-dasharray="0.95 1.25"/>
<circle cx="27" cy="202" r="0.8" fill="#2b4f55"/>
<circle cx="30" cy="202.5" r="0.8" fill="#2b4f55"/>
<circle cx="33" cy="202" r="0.8" fill="#2b4f55"/>
<circle cx="35" cy="202.5" r="0.8" fill="#2b4f55"/>
<circle cx="45" cy="204" r="1.5" fill="#f3efc8" fill-opacity="0.7"/>
<polygon points="44.05,204.8 45.95,204.8 45,203.05" fill="#b0a468"/>
<circle cx="47" cy="207" r="1.5" fill="#f3efc8" fill-opacity="0.7"/>
<polygon points="46.05,207.8 47.95,207.8 47,206.05" fill="#b0a468"/>
<circle cx="58" cy="196" r="1.5" fill="#f3efc8" fill-opacity="0.7"/>
<polygon points="57.05,196.8 58.95,196.8 58,195.05" fill="#b0a468"/>
<path d="M22 184 V223.5 H72" fill="none" stroke="#555" stroke-width="0.6"/>
<line x1="21" y1="184.5" x2="22" y2="184.5" stroke="#555" stroke-width="0.5"/>
<text transform="translate(20.5 186.0) scale(1 1.12)" font-size="3.9" text-anchor="end" fill="#333" color="#333" font-weight="normal" font-style="normal">20</text>
<line x1="21" y1="193.5" x2="22" y2="193.5" stroke="#555" stroke-width="0.5"/>
<text transform="translate(20.5 195.0) scale(1 1.12)" font-size="3.9" text-anchor="end" fill="#333" color="#333" font-weight="normal" font-style="normal">10</text>
<line x1="21" y1="202.3" x2="22" y2="202.3" stroke="#555" stroke-width="0.5"/>
<text transform="translate(20.5 203.8) scale(1 1.12)" font-size="3.9" text-anchor="end" fill="#333" color="#333" font-weight="normal" font-style="normal">0</text>
<line x1="21" y1="211" x2="22" y2="211" stroke="#555" stroke-width="0.5"/>
<text transform="translate(20.5 212.5) scale(1 1.12)" font-size="3.9" text-anchor="end" fill="#333" color="#333" font-weight="normal" font-style="normal">-10</text>
<line x1="21" y1="220" x2="22" y2="220" stroke="#555" stroke-width="0.5"/>
<text transform="translate(20.5 221.5) scale(1 1.12)" font-size="3.9" text-anchor="end" fill="#333" color="#333" font-weight="normal" font-style="normal">-20</text>
<line x1="31" y1="223.5" x2="31" y2="224.5" stroke="#555" stroke-width="0.5"/>
<text transform="translate(31 227.4) scale(1 1.12)" font-size="3.9" text-anchor="middle" fill="#333" color="#333" font-weight="normal" font-style="normal">-10</text>
<line x1="40.6" y1="223.5" x2="40.6" y2="224.5" stroke="#555" stroke-width="0.5"/>
<text transform="translate(40.6 227.4) scale(1 1.12)" font-size="3.9" text-anchor="middle" fill="#333" color="#333" font-weight="normal" font-style="normal">0</text>
<line x1="50" y1="223.5" x2="50" y2="224.5" stroke="#555" stroke-width="0.5"/>
<text transform="translate(50 227.4) scale(1 1.12)" font-size="3.9" text-anchor="middle" fill="#333" color="#333" font-weight="normal" font-style="normal">10</text>
<line x1="59" y1="223.5" x2="59" y2="224.5" stroke="#555" stroke-width="0.5"/>
<text transform="translate(59 227.4) scale(1 1.12)" font-size="3.9" text-anchor="middle" fill="#333" color="#333" font-weight="normal" font-style="normal">20</text>
<line x1="68" y1="223.5" x2="68" y2="224.5" stroke="#555" stroke-width="0.5"/>
<text transform="translate(68 227.4) scale(1 1.12)" font-size="3.9" text-anchor="middle" fill="#333" color="#333" font-weight="normal" font-style="normal">30</text>
<text transform="translate(8.5 181.95)" font-size="4.75" text-anchor="start" fill="#111" color="#111" font-weight="normal" font-style="normal" textLength="64.30" lengthAdjust="spacingAndGlyphs">BMDM_S. pneumoniae_TIGR4</text>
<text transform="translate(48.3 232.7) scale(1 1.2)" font-size="4.1" text-anchor="middle" fill="#111" color="#111" font-weight="normal" font-style="normal">Dim1 (46.2%)</text>
<text transform="translate(13.6 203.75) rotate(-90) scale(1 1.2)" font-size="4.1" text-anchor="middle" fill="#111" color="#111" font-weight="normal" font-style="normal">Dim2 (9%)</text>
<ellipse cx="131.3" cy="203.5" rx="30.3" ry="6.2" transform="rotate(38.6 131.3 203.5)" fill="#e2f3f6" fill-opacity="1.0" stroke="#3a9eac" stroke-width="0.55"/>
<ellipse cx="123" cy="211.4" rx="2.9" ry="3.1" transform="rotate(0 123 211.4)" fill="#fbefc8" fill-opacity="1" stroke="#ecd48e" stroke-width="0.5"/>
<line x1="127.8" y1="183.5" x2="127.8" y2="222.2" stroke="#3a3a3a" stroke-width="0.65" stroke-dasharray="0.95 1.25"/>
<line x1="106.3" y1="206.2" x2="155" y2="206.2" stroke="#3a3a3a" stroke-width="0.65" stroke-dasharray="0.95 1.25"/>
<circle cx="126" cy="200" r="0.8" fill="#2b4f55"/>
<circle cx="127" cy="201" r="0.8" fill="#2b4f55"/>
<circle cx="130" cy="199" r="0.8" fill="#2f8088"/>
<circle cx="138" cy="206" r="0.8" fill="#2f8088"/>
<circle cx="141" cy="210" r="0.8" fill="#2f8088"/>
<circle cx="123" cy="210" r="1.5" fill="#f3efc8" fill-opacity="0.7"/>
<polygon points="122.05,210.8 123.95,210.8 123,209.05" fill="#b0a468"/>
<circle cx="124" cy="212" r="1.5" fill="#f3efc8" fill-opacity="0.7"/>
<polygon points="123.05,212.8 124.95,212.8 124,211.05" fill="#b0a468"/>
<path d="M106.3 183.5 V222.2 H155" fill="none" stroke="#555" stroke-width="0.6"/>
<line x1="105.3" y1="189.5" x2="106.3" y2="189.5" stroke="#555" stroke-width="0.5"/>
<text transform="translate(104.8 191.0) scale(1 1.12)" font-size="3.9" text-anchor="end" fill="#333" color="#333" font-weight="normal" font-style="normal">20</text>
<line x1="105.3" y1="197.6" x2="106.3" y2="197.6" stroke="#555" stroke-width="0.5"/>
<text transform="translate(104.8 199.1) scale(1 1.12)" font-size="3.9" text-anchor="end" fill="#333" color="#333" font-weight="normal" font-style="normal">10</text>
<line x1="105.3" y1="206" x2="106.3" y2="206" stroke="#555" stroke-width="0.5"/>
<text transform="translate(104.8 207.5) scale(1 1.12)" font-size="3.9" text-anchor="end" fill="#333" color="#333" font-weight="normal" font-style="normal">0</text>
<line x1="105.3" y1="214.6" x2="106.3" y2="214.6" stroke="#555" stroke-width="0.5"/>
<text transform="translate(104.8 216.1) scale(1 1.12)" font-size="3.9" text-anchor="end" fill="#333" color="#333" font-weight="normal" font-style="normal">-10</text>
<line x1="117" y1="222.2" x2="117" y2="223.2" stroke="#555" stroke-width="0.5"/>
<text transform="translate(117 226.1) scale(1 1.12)" font-size="3.9" text-anchor="middle" fill="#333" color="#333" font-weight="normal" font-style="normal">-20</text>
<line x1="127.8" y1="222.2" x2="127.8" y2="223.2" stroke="#555" stroke-width="0.5"/>
<text transform="translate(127.8 226.1) scale(1 1.12)" font-size="3.9" text-anchor="middle" fill="#333" color="#333" font-weight="normal" font-style="normal">0</text>
<line x1="140" y1="222.2" x2="140" y2="223.2" stroke="#555" stroke-width="0.5"/>
<text transform="translate(140 226.1) scale(1 1.12)" font-size="3.9" text-anchor="middle" fill="#333" color="#333" font-weight="normal" font-style="normal">20</text>
<line x1="150" y1="222.2" x2="150" y2="223.2" stroke="#555" stroke-width="0.5"/>
<text transform="translate(150 226.1) scale(1 1.12)" font-size="3.9" text-anchor="middle" fill="#333" color="#333" font-weight="normal" font-style="normal">40</text>
<text transform="translate(95.0 180.35)" font-size="4.75" text-anchor="start" fill="#111" color="#111" font-weight="normal" font-style="normal" textLength="31.60" lengthAdjust="spacingAndGlyphs">Bone_S. aureus</text>
<text transform="translate(132.3 231.39999999999998) scale(1 1.2)" font-size="4.1" text-anchor="middle" fill="#111" color="#111" font-weight="normal" font-style="normal">Dim1 (48.1%)</text>
<text transform="translate(97.1 202.85) rotate(-90) scale(1 1.2)" font-size="4.1" text-anchor="middle" fill="#111" color="#111" font-weight="normal" font-style="normal">Dim2 (10.8%)</text>
<ellipse cx="223.4" cy="201.5" rx="9" ry="17.5" transform="rotate(0 223.4 201.5)" fill="#fdf9ec" fill-opacity="1.0" stroke="#dfbf66" stroke-width="0.5"/>
<line x1="212.2" y1="183" x2="212.2" y2="221.4" stroke="#3a3a3a" stroke-width="0.65" stroke-dasharray="0.95 1.25"/>
<line x1="182.7" y1="201.3" x2="234" y2="201.3" stroke="#3a3a3a" stroke-width="0.65" stroke-dasharray="0.95 1.25"/>
<circle cx="184.5" cy="198.6" r="0.8" fill="#2f8088"/>
<circle cx="195.3" cy="196.6" r="0.8" fill="#2b4f55"/>
<circle cx="192.3" cy="208.9" r="0.8" fill="#2b4f55"/>
<circle cx="221.6" cy="196.6" r="1.5" fill="#f3efc8" fill-opacity="0.7"/>
<polygon points="220.65,197.4 222.54999999999998,197.4 221.6,195.65" fill="#b0a468"/>
<circle cx="225.4" cy="196.6" r="1.5" fill="#f3efc8" fill-opacity="0.7"/>
<polygon points="224.45000000000002,197.4 226.35,197.4 225.4,195.65" fill="#b0a468"/>
<circle cx="220" cy="205" r="1.5" fill="#f3efc8" fill-opacity="0.7"/>
<polygon points="219.05,205.8 220.95,205.8 220,204.05" fill="#b0a468"/>
<circle cx="222.8" cy="205" r="1.5" fill="#f3efc8" fill-opacity="0.7"/>
<polygon points="221.85000000000002,205.8 223.75,205.8 222.8,204.05" fill="#b0a468"/>
<circle cx="227" cy="206.6" r="1.5" fill="#f3efc8" fill-opacity="0.7"/>
<polygon points="226.05,207.4 227.95,207.4 227,205.65" fill="#b0a468"/>
<path d="M182.7 183 V221.4 H234" fill="none" stroke="#555" stroke-width="0.6"/>
<line x1="181.7" y1="183" x2="182.7" y2="183" stroke="#555" stroke-width="0.5"/>
<text transform="translate(181.2 184.5) scale(1 1.12)" font-size="3.9" text-anchor="end" fill="#333" color="#333" font-weight="normal" font-style="normal">4</text>
<line x1="181.7" y1="192" x2="182.7" y2="192" stroke="#555" stroke-width="0.5"/>
<text transform="translate(181.2 193.5) scale(1 1.12)" font-size="3.9" text-anchor="end" fill="#333" color="#333" font-weight="normal" font-style="normal">2</text>
<line x1="181.7" y1="201.5" x2="182.7" y2="201.5" stroke="#555" stroke-width="0.5"/>
<text transform="translate(181.2 203.0) scale(1 1.12)" font-size="3.9" text-anchor="end" fill="#333" color="#333" font-weight="normal" font-style="normal">0</text>
<line x1="181.7" y1="210.5" x2="182.7" y2="210.5" stroke="#555" stroke-width="0.5"/>
<text transform="translate(181.2 212.0) scale(1 1.12)" font-size="3.9" text-anchor="end" fill="#333" color="#333" font-weight="normal" font-style="normal">-2</text>
<line x1="181.7" y1="219.5" x2="182.7" y2="219.5" stroke="#555" stroke-width="0.5"/>
<text transform="translate(181.2 221.0) scale(1 1.12)" font-size="3.9" text-anchor="end" fill="#333" color="#333" font-weight="normal" font-style="normal">-4</text>
<line x1="183" y1="221.4" x2="183" y2="222.4" stroke="#555" stroke-width="0.5"/>
<text transform="translate(183 225.3) scale(1 1.12)" font-size="3.9" text-anchor="middle" fill="#333" color="#333" font-weight="normal" font-style="normal">-6</text>
<line x1="192.5" y1="221.4" x2="192.5" y2="222.4" stroke="#555" stroke-width="0.5"/>
<text transform="translate(192.5 225.3) scale(1 1.12)" font-size="3.9" text-anchor="middle" fill="#333" color="#333" font-weight="normal" font-style="normal">-4</text>
<line x1="202.3" y1="221.4" x2="202.3" y2="222.4" stroke="#555" stroke-width="0.5"/>
<text transform="translate(202.3 225.3) scale(1 1.12)" font-size="3.9" text-anchor="middle" fill="#333" color="#333" font-weight="normal" font-style="normal">-2</text>
<line x1="212.2" y1="221.4" x2="212.2" y2="222.4" stroke="#555" stroke-width="0.5"/>
<text transform="translate(212.2 225.3) scale(1 1.12)" font-size="3.9" text-anchor="middle" fill="#333" color="#333" font-weight="normal" font-style="normal">0</text>
<line x1="221.7" y1="221.4" x2="221.7" y2="222.4" stroke="#555" stroke-width="0.5"/>
<text transform="translate(221.7 225.3) scale(1 1.12)" font-size="3.9" text-anchor="middle" fill="#333" color="#333" font-weight="normal" font-style="normal">2</text>
<line x1="231.2" y1="221.4" x2="231.2" y2="222.4" stroke="#555" stroke-width="0.5"/>
<text transform="translate(231.2 225.3) scale(1 1.12)" font-size="3.9" text-anchor="middle" fill="#333" color="#333" font-weight="normal" font-style="normal">4</text>
<text transform="translate(170.89999999999998 179.55)" font-size="4.75" text-anchor="start" fill="#111" color="#111" font-weight="normal" font-style="normal" textLength="59.40" lengthAdjust="spacingAndGlyphs">Liver_C. rodentium_DBS100</text>
<text transform="translate(209.6 230.6) scale(1 1.2)" font-size="4.1" text-anchor="middle" fill="#111" color="#111" font-weight="normal" font-style="normal">Dim1 (53.1%)</text>
<text transform="translate(174.9 202.2) rotate(-90) scale(1 1.2)" font-size="4.1" text-anchor="middle" fill="#111" color="#111" font-weight="normal" font-style="normal">Dim2 (13.9%)</text>
<ellipse cx="299.4" cy="202.8" rx="12" ry="19.5" transform="rotate(30 299.4 202.8)" fill="#fdf9ec" fill-opacity="1.0" stroke="#dfbf66" stroke-width="0.5"/>
<ellipse cx="268.6" cy="202.7" rx="3.0" ry="1.3" transform="rotate(0 268.6 202.7)" fill="#c8eaf0" fill-opacity="1" stroke="#30a6b4" stroke-width="0.65"/>
<line x1="283.9" y1="182.3" x2="283.9" y2="222" stroke="#3a3a3a" stroke-width="0.65" stroke-dasharray="0.95 1.25"/>
<line x1="263" y1="203" x2="312" y2="203" stroke="#3a3a3a" stroke-width="0.65" stroke-dasharray="0.95 1.25"/>
<circle cx="267" cy="203" r="0.8" fill="#2f8088"/>
<circle cx="269" cy="203" r="0.8" fill="#2f8088"/>
<circle cx="271" cy="202.5" r="0.8" fill="#2f8088"/>
<circle cx="302" cy="197" r="1.5" fill="#f3efc8" fill-opacity="0.7"/>
<polygon points="301.05,197.8 302.95,197.8 302,196.05" fill="#b0a468"/>
<circle cx="297" cy="204" r="1.5" fill="#f3efc8" fill-opacity="0.7"/>
<polygon points="296.05,204.8 297.95,204.8 297,203.05" fill="#b0a468"/>
<circle cx="300" cy="206" r="1.5" fill="#f3efc8" fill-opacity="0.7"/>
<polygon points="299.05,206.8 300.95,206.8 300,205.05" fill="#b0a468"/>
<path d="M263 182.3 V222 H312" fill="none" stroke="#555" stroke-width="0.6"/>
<line x1="262" y1="191" x2="263" y2="191" stroke="#555" stroke-width="0.5"/>
<text transform="translate(261.5 192.5) scale(1 1.12)" font-size="3.9" text-anchor="end" fill="#333" color="#333" font-weight="normal" font-style="normal">10</text>
<line x1="262" y1="203" x2="263" y2="203" stroke="#555" stroke-width="0.5"/>
<text transform="translate(261.5 204.5) scale(1 1.12)" font-size="3.9" text-anchor="end" fill="#333" color="#333" font-weight="normal" font-style="normal">0</text>
<line x1="262" y1="213.5" x2="263" y2="213.5" stroke="#555" stroke-width="0.5"/>
<text transform="translate(261.5 215.0) scale(1 1.12)" font-size="3.9" text-anchor="end" fill="#333" color="#333" font-weight="normal" font-style="normal">-10</text>
<line x1="267.7" y1="222" x2="267.7" y2="223" stroke="#555" stroke-width="0.5"/>
<text transform="translate(267.7 225.9) scale(1 1.12)" font-size="3.9" text-anchor="middle" fill="#333" color="#333" font-weight="normal" font-style="normal">-10</text>
<line x1="283.9" y1="222" x2="283.9" y2="223" stroke="#555" stroke-width="0.5"/>
<text transform="translate(283.9 225.9) scale(1 1.12)" font-size="3.9" text-anchor="middle" fill="#333" color="#333" font-weight="normal" font-style="normal">0</text>
<line x1="300" y1="222" x2="300" y2="223" stroke="#555" stroke-width="0.5"/>
<text transform="translate(300 225.9) scale(1 1.12)" font-size="3.9" text-anchor="middle" fill="#333" color="#333" font-weight="normal" font-style="normal">10</text>
<text transform="translate(250.79999999999998 179.25)" font-size="4.75" text-anchor="start" fill="#111" color="#111" font-weight="normal" font-style="normal" textLength="55.80" lengthAdjust="spacingAndGlyphs">Liver_E. coli_ATCC120104</text>
<text transform="translate(287.5 231.2) scale(1 1.2)" font-size="4.1" text-anchor="middle" fill="#111" color="#111" font-weight="normal" font-style="normal">Dim1 (56.8%)</text>
<text transform="translate(253.1 202.15) rotate(-90) scale(1 1.2)" font-size="4.1" text-anchor="middle" fill="#111" color="#111" font-weight="normal" font-style="normal">Dim2 (13.7%)</text>
<line x1="49.3" y1="241" x2="49.3" y2="281.5" stroke="#3a3a3a" stroke-width="0.65" stroke-dasharray="0.95 1.25"/>
<line x1="23.4" y1="261.6" x2="72" y2="261.6" stroke="#3a3a3a" stroke-width="0.65" stroke-dasharray="0.95 1.25"/>
<circle cx="26.4" cy="243.5" r="0.8" fill="#2b4f55"/>
<circle cx="26" cy="261.5" r="0.8" fill="#2b4f55"/>
<circle cx="25" cy="279" r="0.8" fill="#2b4f55"/>
<circle cx="70" cy="249" r="1.5" fill="#f3efc8" fill-opacity="0.7"/>
<polygon points="69.05,249.8 70.95,249.8 70,248.05" fill="#b0a468"/>
<circle cx="71" cy="268" r="1.5" fill="#f3efc8" fill-opacity="0.7"/>
<polygon points="70.05,268.8 71.95,268.8 71,267.05" fill="#b0a468"/>
<path d="M23.4 241 V281.5 H72" fill="none" stroke="#555" stroke-width="0.6"/>
<line x1="22.4" y1="244" x2="23.4" y2="244" stroke="#555" stroke-width="0.5"/>
<text transform="translate(21.9 245.5) scale(1 1.12)" font-size="3.9" text-anchor="end" fill="#333" color="#333" font-weight="normal" font-style="normal">10</text>
<line x1="22.4" y1="253" x2="23.4" y2="253" stroke="#555" stroke-width="0.5"/>
<text transform="translate(21.9 254.5) scale(1 1.12)" font-size="3.9" text-anchor="end" fill="#333" color="#333" font-weight="normal" font-style="normal">5</text>
<line x1="22.4" y1="261.6" x2="23.4" y2="261.6" stroke="#555" stroke-width="0.5"/>
<text transform="translate(21.9 263.1) scale(1 1.12)" font-size="3.9" text-anchor="end" fill="#333" color="#333" font-weight="normal" font-style="normal">0</text>
<line x1="22.4" y1="270" x2="23.4" y2="270" stroke="#555" stroke-width="0.5"/>
<text transform="translate(21.9 271.5) scale(1 1.12)" font-size="3.9" text-anchor="end" fill="#333" color="#333" font-weight="normal" font-style="normal">-5</text>
<line x1="22.4" y1="278.5" x2="23.4" y2="278.5" stroke="#555" stroke-width="0.5"/>
<text transform="translate(21.9 280.0) scale(1 1.12)" font-size="3.9" text-anchor="end" fill="#333" color="#333" font-weight="normal" font-style="normal">-10</text>
<line x1="24.5" y1="281.5" x2="24.5" y2="282.5" stroke="#555" stroke-width="0.5"/>
<text transform="translate(24.5 285.4) scale(1 1.12)" font-size="3.9" text-anchor="middle" fill="#333" color="#333" font-weight="normal" font-style="normal">-20</text>
<line x1="36.5" y1="281.5" x2="36.5" y2="282.5" stroke="#555" stroke-width="0.5"/>
<text transform="translate(36.5 285.4) scale(1 1.12)" font-size="3.9" text-anchor="middle" fill="#333" color="#333" font-weight="normal" font-style="normal">-10</text>
<line x1="49.3" y1="281.5" x2="49.3" y2="282.5" stroke="#555" stroke-width="0.5"/>
<text transform="translate(49.3 285.4) scale(1 1.12)" font-size="3.9" text-anchor="middle" fill="#333" color="#333" font-weight="normal" font-style="normal">0</text>
<line x1="61.5" y1="281.5" x2="61.5" y2="282.5" stroke="#555" stroke-width="0.5"/>
<text transform="translate(61.5 285.4) scale(1 1.12)" font-size="3.9" text-anchor="middle" fill="#333" color="#333" font-weight="normal" font-style="normal">10</text>
<text transform="translate(9.7 239.55)" font-size="4.75" text-anchor="start" fill="#111" color="#111" font-weight="normal" font-style="normal" textLength="54.70" lengthAdjust="spacingAndGlyphs">Brain_C. neoformans_H99</text>
<text transform="translate(47.7 290.7) scale(1 1.2)" font-size="4.1" text-anchor="middle" fill="#111" color="#111" font-weight="normal" font-style="normal">Dim1 (60.1%)</text>
<text transform="translate(15 261.25) rotate(-90) scale(1 1.2)" font-size="4.1" text-anchor="middle" fill="#111" color="#111" font-weight="normal" font-style="normal">Dim2 (15.6%)</text>
<ellipse cx="133.8" cy="253.6" rx="27.1" ry="3.6" transform="rotate(28.7 133.8 253.6)" fill="#fdf9ec" fill-opacity="1.0" stroke="#dfbf66" stroke-width="0.5"/>
<ellipse cx="125.3" cy="259" rx="24.6" ry="2.5" transform="rotate(48.6 125.3 259)" fill="#e6f4f7" fill-opacity="0.8" stroke="#35a8b8" stroke-width="0.65"/>
<line x1="129.4" y1="240" x2="129.4" y2="279.3" stroke="#3a3a3a" stroke-width="0.65" stroke-dasharray="0.95 1.25"/>
<line x1="108.5" y1="255.9" x2="157.8" y2="255.9" stroke="#3a3a3a" stroke-width="0.65" stroke-dasharray="0.95 1.25"/>
<circle cx="121" cy="255" r="0.8" fill="#2f8088"/>
<circle cx="129" cy="261" r="0.8" fill="#2f8088"/>
<circle cx="129" cy="248" r="1.5" fill="#f3efc8" fill-opacity="0.7"/>
<polygon points="128.05,248.8 129.95,248.8 129,247.05" fill="#b0a468"/>
<circle cx="130" cy="250" r="1.5" fill="#f3efc8" fill-opacity="0.7"/>
<polygon points="129.05,250.8 130.95,250.8 130,249.05" fill="#b0a468"/>
<path d="M108.5 240 V279.3 H157.8" fill="none" stroke="#555" stroke-width="0.6"/>
<line x1="107.5" y1="244" x2="108.5" y2="244" stroke="#555" stroke-width="0.5"/>
<text transform="translate(107.0 245.5) scale(1 1.12)" font-size="3.9" text-anchor="end" fill="#333" color="#333" font-weight="normal" font-style="normal">20</text>
<line x1="107.5" y1="256" x2="108.5" y2="256" stroke="#555" stroke-width="0.5"/>
<text transform="translate(107.0 257.5) scale(1 1.12)" font-size="3.9" text-anchor="end" fill="#333" color="#333" font-weight="normal" font-style="normal">0</text>
<line x1="107.5" y1="268" x2="108.5" y2="268" stroke="#555" stroke-width="0.5"/>
<text transform="translate(107.0 269.5) scale(1 1.12)" font-size="3.9" text-anchor="end" fill="#333" color="#333" font-weight="normal" font-style="normal">-20</text>
<line x1="115.9" y1="279.3" x2="115.9" y2="280.3" stroke="#555" stroke-width="0.5"/>
<text transform="translate(115.9 283.2) scale(1 1.12)" font-size="3.9" text-anchor="middle" fill="#333" color="#333" font-weight="normal" font-style="normal">-20</text>
<line x1="129.4" y1="279.3" x2="129.4" y2="280.3" stroke="#555" stroke-width="0.5"/>
<text transform="translate(129.4 283.2) scale(1 1.12)" font-size="3.9" text-anchor="middle" fill="#333" color="#333" font-weight="normal" font-style="normal">0</text>
<line x1="144" y1="279.3" x2="144" y2="280.3" stroke="#555" stroke-width="0.5"/>
<text transform="translate(144 283.2) scale(1 1.12)" font-size="3.9" text-anchor="middle" fill="#333" color="#333" font-weight="normal" font-style="normal">20</text>
<line x1="156" y1="279.3" x2="156" y2="280.3" stroke="#555" stroke-width="0.5"/>
<text transform="translate(156 283.2) scale(1 1.12)" font-size="3.9" text-anchor="middle" fill="#333" color="#333" font-weight="normal" font-style="normal">40</text>
<text transform="translate(96.10000000000001 237.35)" font-size="4.75" text-anchor="start" fill="#111" color="#111" font-weight="normal" font-style="normal" textLength="61.10" lengthAdjust="spacingAndGlyphs">Mapha_ M. tuberculosis _BJN</text>
<text transform="translate(133.15 288.5) scale(1 1.2)" font-size="4.1" text-anchor="middle" fill="#111" color="#111" font-weight="normal" font-style="normal">Dim1 (38.7%)</text>
<text transform="translate(100.3 259.65) rotate(-90) scale(1 1.2)" font-size="4.1" text-anchor="middle" fill="#111" color="#111" font-weight="normal" font-style="normal">Dim2 (24.1%)</text>
<text transform="translate(179.2 247.8)" font-size="8.2" text-anchor="start" fill="#111" color="#111" font-weight="normal" font-style="normal" textLength="22.60" lengthAdjust="spacingAndGlyphs">group</text>
<rect x="179.2" y="253.6" width="13.2" height="12.4" fill="#e2f4f8" stroke="#c4c4c4" stroke-width="0.5"/>
<rect x="179.2" y="266" width="13.2" height="14" fill="#fdf5ea" stroke="#c4c4c4" stroke-width="0.5"/>
<circle cx="186" cy="259.7" r="3.1" fill="#1a9aa7"/>
<polygon points="182.2,276 189.6,276 185.9,269.8" fill="#d8a822"/>
<text transform="translate(197.4 262.2)" font-size="6.9" text-anchor="start" fill="#111" color="#111" font-weight="normal" font-style="normal" textLength="33.40" lengthAdjust="spacingAndGlyphs">Uninfected</text>
<text transform="translate(197.4 276.3)" font-size="6.9" text-anchor="start" fill="#111" color="#111" font-weight="normal" font-style="normal" textLength="44.40" lengthAdjust="spacingAndGlyphs">IBP infections</text>
<text transform="translate(0.5 292.5)" font-size="6.5" text-anchor="start" fill="#111" color="#111" font-weight="bold" font-style="normal">B</text>
<path d="M44 297 V358.5 H134" fill="none" stroke="#333" stroke-width="0.6"/>
<line x1="42.8" y1="298.4" x2="44" y2="298.4" stroke="#333" stroke-width="0.5"/>
<text transform="translate(41.8 300.0)" font-size="4.6" text-anchor="end" fill="#111" color="#111" font-weight="bold" font-style="normal">100</text>
<line x1="42.8" y1="313.2" x2="44" y2="313.2" stroke="#333" stroke-width="0.5"/>
<text transform="translate(41.8 314.8)" font-size="4.6" text-anchor="end" fill="#111" color="#111" font-weight="bold" font-style="normal">50</text>
<line x1="42.8" y1="328.0" x2="44" y2="328.0" stroke="#333" stroke-width="0.5"/>
<text transform="translate(41.8 329.6)" font-size="4.6" text-anchor="end" fill="#111" color="#111" font-weight="bold" font-style="normal">0</text>
<line x1="42.8" y1="342.8" x2="44" y2="342.8" stroke="#333" stroke-width="0.5"/>
<text transform="translate(41.8 344.40000000000003)" font-size="4.6" text-anchor="end" fill="#111" color="#111" font-weight="bold" font-style="normal">-50</text>
<line x1="42.8" y1="357.6" x2="44" y2="357.6" stroke="#333" stroke-width="0.5"/>
<text transform="translate(41.8 359.20000000000005)" font-size="4.6" text-anchor="end" fill="#111" color="#111" font-weight="bold" font-style="normal">-100</text>
<text transform="translate(23.6 329) rotate(-90)" font-size="4.95" text-anchor="middle" fill="#111" color="#111" font-weight="bold" font-style="normal" textLength="56.50" lengthAdjust="spacingAndGlyphs">Editing level Difference</text>
<line x1="44" y1="327.8" x2="134" y2="327.8" stroke="#c8c8c8" stroke-width="0.35" stroke-dasharray="0.8 0.6"/>
<line x1="47.2" y1="312.4" x2="47.2" y2="343.0" stroke="#1d3f70" stroke-opacity="0.15" stroke-width="0.45"/>
<path d="M47.20 320.40 C47.64 322.92 48.45 324.04 48.45 326.00 C48.45 329.15 47.57 331.60 47.20 333.00 C46.83 331.60 45.95 329.15 45.95 326.00 C45.95 324.04 46.76 322.92 47.20 320.40Z" fill="#1d3f70" fill-opacity="1.0"/>
<text transform="translate(48.900000000000006 310.0) rotate(-90)" font-size="4.9" text-anchor="start" fill="#111" color="#111" font-weight="normal" font-style="normal">N=27</text>
<line x1="52.150000000000006" y1="313.0" x2="52.150000000000006" y2="338.6" stroke="#2c5f98" stroke-opacity="0.15" stroke-width="0.45"/>
<path d="M52.15 321.00 C52.49 323.70 53.13 324.90 53.13 327.00 C53.13 327.72 52.44 328.28 52.15 328.60 C51.86 328.28 51.18 327.72 51.18 327.00 C51.18 324.90 51.81 323.70 52.15 321.00Z" fill="#2c5f98" fill-opacity="0.95"/>
<text transform="translate(53.85000000000001 310.0) rotate(-90)" font-size="4.9" text-anchor="start" fill="#111" color="#111" font-weight="normal" font-style="normal">N=1542</text>
<line x1="57.1" y1="310.0" x2="57.1" y2="338.8" stroke="#9cc0e0" stroke-opacity="0.15" stroke-width="0.45"/>
<path d="M57.10 318.00 C57.37 321.51 57.88 323.07 57.88 325.80 C57.88 327.15 57.33 328.20 57.10 328.80 C56.87 328.20 56.32 327.15 56.32 325.80 C56.32 323.07 56.83 321.51 57.10 318.00Z" fill="#9cc0e0" fill-opacity="0.55"/>
<text transform="translate(58.800000000000004 310.0) rotate(-90)" font-size="4.9" text-anchor="start" fill="#111" color="#111" font-weight="normal" font-style="normal">N=309</text>
<line x1="62.050000000000004" y1="310.9" x2="62.050000000000004" y2="338.5" stroke="#4c9a48" stroke-opacity="0.15" stroke-width="0.45"/>
<path d="M62.05 318.90 C62.46 321.87 63.22 323.19 63.22 325.50 C63.22 326.85 62.40 327.90 62.05 328.50 C61.70 327.90 60.88 326.85 60.88 325.50 C60.88 323.19 61.64 321.87 62.05 318.90Z" fill="#4c9a48" fill-opacity="0.95"/>
<text transform="translate(63.75000000000001 310.0) rotate(-90)" font-size="4.9" text-anchor="start" fill="#111" color="#111" font-weight="normal" font-style="normal">N=393</text>
<line x1="67.0" y1="312.0" x2="67.0" y2="339.5" stroke="#e6bc3c" stroke-opacity="0.15" stroke-width="0.45"/>
<path d="M67.00 320.00 C67.30 322.93 67.86 324.23 67.86 326.50 C67.86 327.85 67.26 328.90 67.00 329.50 C66.74 328.90 66.14 327.85 66.14 326.50 C66.14 324.23 66.70 322.93 67.00 320.00Z" fill="#e6bc3c" fill-opacity="0.7"/>
<text transform="translate(68.7 310.0) rotate(-90)" font-size="4.9" text-anchor="start" fill="#111" color="#111" font-weight="normal" font-style="normal">N=526</text>
<line x1="71.95" y1="311.6" x2="71.95" y2="344.4" stroke="#c42a2a" stroke-opacity="0.15" stroke-width="0.45"/>
<path d="M71.95 319.60 C72.44 323.29 73.35 324.93 73.35 327.80 C73.35 330.77 72.37 333.08 71.95 334.40 C71.53 333.08 70.55 330.77 70.55 327.80 C70.55 324.93 71.46 323.29 71.95 319.60Z" fill="#c42a2a" fill-opacity="0.95"/>
<text transform="translate(73.65 310.0) rotate(-90)" font-size="4.9" text-anchor="start" fill="#111" color="#111" font-weight="normal" font-style="normal">N=2092</text>
<line x1="76.9" y1="314.0" x2="76.9" y2="340.0" stroke="#e39aa8" stroke-opacity="0.15" stroke-width="0.45"/>
<path d="M76.90 322.00 C77.17 324.25 77.68 325.25 77.68 327.00 C77.68 328.35 77.13 329.40 76.90 330.00 C76.67 329.40 76.12 328.35 76.12 327.00 C76.12 325.25 76.63 324.25 76.90 322.00Z" fill="#e39aa8" fill-opacity="0.55"/>
<text transform="translate(78.60000000000001 310.0) rotate(-90)" font-size="4.9" text-anchor="start" fill="#111" color="#111" font-weight="normal" font-style="normal">N=237</text>
<line x1="81.85" y1="316.0" x2="81.85" y2="339.0" stroke="#c8c0dc" stroke-opacity="0.15" stroke-width="0.45"/>
<path d="M81.85 324.00 C82.07 325.57 82.47 326.27 82.47 327.50 C82.47 328.18 82.04 328.70 81.85 329.00 C81.66 328.70 81.23 328.18 81.23 327.50 C81.23 326.27 81.63 325.57 81.85 324.00Z" fill="#c8c0dc" fill-opacity="0.45"/>
<text transform="translate(83.55 310.0) rotate(-90)" font-size="4.9" text-anchor="start" fill="#111" color="#111" font-weight="normal" font-style="normal">N=133</text>
<line x1="86.80000000000001" y1="316.8" x2="86.80000000000001" y2="338.8" stroke="#8c8c9c" stroke-opacity="0.15" stroke-width="0.45"/>
<path d="M86.80 324.80 C87.13 326.01 87.74 326.56 87.74 327.50 C87.74 328.08 87.08 328.54 86.80 328.80 C86.52 328.54 85.86 328.08 85.86 327.50 C85.86 326.56 86.47 326.01 86.80 324.80Z" fill="#8c8c9c" fill-opacity="0.7"/>
<text transform="translate(88.50000000000001 310.0) rotate(-90)" font-size="4.9" text-anchor="start" fill="#111" color="#111" font-weight="normal" font-style="normal">N=133</text>
<line x1="91.75" y1="316.8" x2="91.75" y2="340.7" stroke="#9a98b4" stroke-opacity="0.15" stroke-width="0.45"/>
<path d="M91.75 324.80 C92.06 326.33 92.65 327.01 92.65 328.20 C92.65 329.32 92.02 330.20 91.75 330.70 C91.48 330.20 90.85 329.32 90.85 328.20 C90.85 327.01 91.44 326.33 91.75 324.80Z" fill="#9a98b4" fill-opacity="0.8"/>
<text transform="translate(93.45 310.0) rotate(-90)" font-size="4.9" text-anchor="start" fill="#111" color="#111" font-weight="normal" font-style="normal">N=2052</text>
<line x1="96.7" y1="313.0" x2="96.7" y2="339.0" stroke="#d45a6a" stroke-opacity="0.15" stroke-width="0.45"/>
<path d="M96.70 321.00 C97.04 323.38 97.67 324.44 97.67 326.30 C97.67 327.51 96.99 328.46 96.70 329.00 C96.41 328.46 95.73 327.51 95.73 326.30 C95.73 324.44 96.36 323.38 96.70 321.00Z" fill="#d45a6a" fill-opacity="0.95"/>
<text transform="translate(98.4 310.0) rotate(-90)" font-size="4.9" text-anchor="start" fill="#111" color="#111" font-weight="normal" font-style="normal">N=637</text>
<line x1="101.65" y1="308.0" x2="101.65" y2="340.7" stroke="#c49a2c" stroke-opacity="0.15" stroke-width="0.45"/>
<path d="M101.65 316.00 C102.09 319.60 102.90 321.20 102.90 324.00 C102.90 327.01 102.02 329.36 101.65 330.70 C101.28 329.36 100.40 327.01 100.40 324.00 C100.40 321.20 101.21 319.60 101.65 316.00Z" fill="#c49a2c" fill-opacity="0.95"/>
<text transform="translate(103.35000000000001 310.0) rotate(-90)" font-size="4.9" text-anchor="start" fill="#111" color="#111" font-weight="normal" font-style="normal">N=637</text>
<line x1="106.60000000000001" y1="312.4" x2="106.60000000000001" y2="338.5" stroke="#3e9a56" stroke-opacity="0.15" stroke-width="0.45"/>
<path d="M106.60 320.40 C106.98 323.06 107.69 324.24 107.69 326.30 C107.69 327.29 106.93 328.06 106.60 328.50 C106.27 328.06 105.51 327.29 105.51 326.30 C105.51 324.24 106.22 323.06 106.60 320.40Z" fill="#3e9a56" fill-opacity="0.95"/>
<text transform="translate(108.30000000000001 310.0) rotate(-90)" font-size="4.9" text-anchor="start" fill="#111" color="#111" font-weight="normal" font-style="normal">N=1758</text>
<line x1="111.55000000000001" y1="316.8" x2="111.55000000000001" y2="340.7" stroke="#3aa070" stroke-opacity="0.15" stroke-width="0.45"/>
<path d="M111.55 324.80 C111.90 326.24 112.56 326.88 112.56 328.00 C112.56 329.21 111.85 330.16 111.55 330.70 C111.25 330.16 110.54 329.21 110.54 328.00 C110.54 326.88 111.20 326.24 111.55 324.80Z" fill="#3aa070" fill-opacity="0.95"/>
<text transform="translate(113.25000000000001 310.0) rotate(-90)" font-size="4.9" text-anchor="start" fill="#111" color="#111" font-weight="normal" font-style="normal">N=179</text>
<line x1="116.5" y1="318.3" x2="116.5" y2="343.7" stroke="#1d9aa6" stroke-opacity="0.15" stroke-width="0.45"/>
<path d="M116.50 326.30 C116.90 327.97 117.63 328.70 117.63 330.00 C117.63 331.67 116.84 332.96 116.50 333.70 C116.16 332.96 115.37 331.67 115.37 330.00 C115.37 328.70 116.10 327.97 116.50 326.30Z" fill="#1d9aa6" fill-opacity="0.95"/>
<text transform="translate(118.2 310.0) rotate(-90)" font-size="4.9" text-anchor="start" fill="#111" color="#111" font-weight="normal" font-style="normal">N=222</text>
<line x1="121.45" y1="309.4" x2="121.45" y2="336.3" stroke="#6f5fae" stroke-opacity="0.15" stroke-width="0.45"/>
<path d="M121.45 317.40 C121.91 319.42 122.78 320.32 122.78 321.90 C122.78 323.88 121.85 325.42 121.45 326.30 C121.05 325.42 120.12 323.88 120.12 321.90 C120.12 320.32 120.99 319.42 121.45 317.40Z" fill="#6f5fae" fill-opacity="0.95"/>
<text transform="translate(123.15 310.0) rotate(-90)" font-size="4.9" text-anchor="start" fill="#111" color="#111" font-weight="normal" font-style="normal">N=160</text>
<line x1="126.4" y1="313.0" x2="126.4" y2="343.0" stroke="#a83c82" stroke-opacity="0.15" stroke-width="0.45"/>
<path d="M126.40 321.00 C126.86 323.70 127.73 324.90 127.73 327.00 C127.73 329.70 126.80 331.80 126.40 333.00 C126.00 331.80 125.07 329.70 125.07 327.00 C125.07 324.90 125.94 323.70 126.40 321.00Z" fill="#a83c82" fill-opacity="0.95"/>
<text transform="translate(128.1 310.0) rotate(-90)" font-size="4.9" text-anchor="start" fill="#111" color="#111" font-weight="normal" font-style="normal">N=421</text>
<line x1="131.35000000000002" y1="310.9" x2="131.35000000000002" y2="342.2" stroke="#8a80c0" stroke-opacity="0.15" stroke-width="0.45"/>
<path d="M131.35 318.90 C131.76 321.87 132.52 323.19 132.52 325.50 C132.52 328.51 131.70 330.86 131.35 332.20 C131.00 330.86 130.18 328.51 130.18 325.50 C130.18 323.19 130.94 321.87 131.35 318.90Z" fill="#8a80c0" fill-opacity="0.9"/>
<text transform="translate(133.05 310.0) rotate(-90)" font-size="4.9" text-anchor="start" fill="#111" color="#111" font-weight="normal" font-style="normal">N=133</text>
<line x1="47.2" y1="358.5" x2="47.2" y2="361" stroke="#333" stroke-width="0.5"/>
<text transform="translate(48.1 364.6) rotate(-44.5) scale(1 1.1)" font-size="3.75" text-anchor="end" fill="#333" color="#333" font-weight="normal" font-style="normal">Lung_M. tuberculosis_H37Rv_A</text>
<line x1="52.150000000000006" y1="358.5" x2="52.150000000000006" y2="361" stroke="#333" stroke-width="0.5"/>
<text transform="translate(53.050000000000004 364.6) rotate(-44.5) scale(1 1.1)" font-size="3.75" text-anchor="end" fill="#333" color="#333" font-weight="normal" font-style="normal">Lung_M. tuberculosis_H37Rv_B</text>
<line x1="57.1" y1="358.5" x2="57.1" y2="361" stroke="#333" stroke-width="0.5"/>
<text transform="translate(58.0 364.6) rotate(-44.5) scale(1 1.1)" font-size="3.75" text-anchor="end" fill="#333" color="#333" font-weight="normal" font-style="normal">Lung_M. tuberculosis_HN878</text>
<line x1="62.050000000000004" y1="358.5" x2="62.050000000000004" y2="361" stroke="#333" stroke-width="0.5"/>
<text transform="translate(62.95 364.6) rotate(-44.5) scale(1 1.1)" font-size="3.75" text-anchor="end" fill="#333" color="#333" font-weight="normal" font-style="normal">Lung_M.avium_A</text>
<line x1="67.0" y1="358.5" x2="67.0" y2="361" stroke="#333" stroke-width="0.5"/>
<text transform="translate(67.9 364.6) rotate(-44.5) scale(1 1.1)" font-size="3.75" text-anchor="end" fill="#333" color="#333" font-weight="normal" font-style="normal">Lung_M.avium_B</text>
<line x1="71.95" y1="358.5" x2="71.95" y2="361" stroke="#333" stroke-width="0.5"/>
<text transform="translate(72.85000000000001 364.6) rotate(-44.5) scale(1 1.1)" font-size="3.75" text-anchor="end" fill="#333" color="#333" font-weight="normal" font-style="normal">Lung_A. baumannii_LAC-4</text>
<line x1="76.9" y1="358.5" x2="76.9" y2="361" stroke="#333" stroke-width="0.5"/>
<text transform="translate(77.80000000000001 364.6) rotate(-44.5) scale(1 1.1)" font-size="3.75" text-anchor="end" fill="#333" color="#333" font-weight="normal" font-style="normal">Lung_S. enterica_BRD509</text>
<line x1="81.85" y1="358.5" x2="81.85" y2="361" stroke="#333" stroke-width="0.5"/>
<text transform="translate(82.75 364.6) rotate(-44.5) scale(1 1.1)" font-size="3.75" text-anchor="end" fill="#333" color="#333" font-weight="normal" font-style="normal">Lung_B. melitensis_16M</text>
<line x1="86.80000000000001" y1="358.5" x2="86.80000000000001" y2="361" stroke="#333" stroke-width="0.5"/>
<text transform="translate(87.70000000000002 364.6) rotate(-44.5) scale(1 1.1)" font-size="3.75" text-anchor="end" fill="#333" color="#333" font-weight="normal" font-style="normal">Lung_K. pneumoniae_YBQ</text>
<line x1="91.75" y1="358.5" x2="91.75" y2="361" stroke="#333" stroke-width="0.5"/>
<text transform="translate(92.65 364.6) rotate(-44.5) scale(1 1.1)" font-size="3.75" text-anchor="end" fill="#333" color="#333" font-weight="normal" font-style="normal">Lung_C. neoformans_H99</text>
<line x1="96.7" y1="358.5" x2="96.7" y2="361" stroke="#333" stroke-width="0.5"/>
<text transform="translate(97.60000000000001 364.6) rotate(-44.5) scale(1 1.1)" font-size="3.75" text-anchor="end" fill="#333" color="#333" font-weight="normal" font-style="normal">BMDM_Salmonella_SL1344</text>
<line x1="101.65" y1="358.5" x2="101.65" y2="361" stroke="#333" stroke-width="0.5"/>
<text transform="translate(102.55000000000001 364.6) rotate(-44.5) scale(1 1.1)" font-size="3.75" text-anchor="end" fill="#333" color="#333" font-weight="normal" font-style="normal">BMDM_Listeria_LO28</text>
<line x1="106.60000000000001" y1="358.5" x2="106.60000000000001" y2="361" stroke="#333" stroke-width="0.5"/>
<text transform="translate(107.50000000000001 364.6) rotate(-44.5) scale(1 1.1)" font-size="3.75" text-anchor="end" fill="#333" color="#333" font-weight="normal" font-style="normal">BMDM_S. pneumoniae_TIGR4</text>
<line x1="111.55000000000001" y1="358.5" x2="111.55000000000001" y2="361" stroke="#333" stroke-width="0.5"/>
<text transform="translate(112.45000000000002 364.6) rotate(-44.5) scale(1 1.1)" font-size="3.75" text-anchor="end" fill="#333" color="#333" font-weight="normal" font-style="normal">Bone_S. aureus</text>
<line x1="116.5" y1="358.5" x2="116.5" y2="361" stroke="#333" stroke-width="0.5"/>
<text transform="translate(117.4 364.6) rotate(-44.5) scale(1 1.1)" font-size="3.75" text-anchor="end" fill="#333" color="#333" font-weight="normal" font-style="normal">Liver_C. rodentium_DBS100</text>
<line x1="121.45" y1="358.5" x2="121.45" y2="361" stroke="#333" stroke-width="0.5"/>
<text transform="translate(122.35000000000001 364.6) rotate(-44.5) scale(1 1.1)" font-size="3.75" text-anchor="end" fill="#333" color="#333" font-weight="normal" font-style="normal">Liver_E. coli_ATCC120104</text>
<line x1="126.4" y1="358.5" x2="126.4" y2="361" stroke="#333" stroke-width="0.5"/>
<text transform="translate(127.30000000000001 364.6) rotate(-44.5) scale(1 1.1)" font-size="3.75" text-anchor="end" fill="#333" color="#333" font-weight="normal" font-style="normal">Brain_C. neoformans_H99</text>
<line x1="131.35000000000002" y1="358.5" x2="131.35000000000002" y2="361" stroke="#333" stroke-width="0.5"/>
<text transform="translate(132.25000000000003 364.6) rotate(-44.5) scale(1 1.1)" font-size="3.75" text-anchor="end" fill="#333" color="#333" font-weight="normal" font-style="normal">Mapha_M. tuberculosis_BJN</text>
<text transform="translate(165 292.5)" font-size="6.5" text-anchor="start" fill="#111" color="#111" font-weight="bold" font-style="normal">C</text>
<path d="M184.2 289.5 V352.3 H278" fill="none" stroke="#333" stroke-width="0.6"/>
<line x1="183.0" y1="290.2" x2="184.2" y2="290.2" stroke="#333" stroke-width="0.5"/>
<text transform="translate(182.2 291.8)" font-size="4.6" text-anchor="end" fill="#111" color="#111" font-weight="bold" font-style="normal">100</text>
<line x1="183.0" y1="305.7" x2="184.2" y2="305.7" stroke="#333" stroke-width="0.5"/>
<text transform="translate(182.2 307.3)" font-size="4.6" text-anchor="end" fill="#111" color="#111" font-weight="bold" font-style="normal">75</text>
<line x1="183.0" y1="321.2" x2="184.2" y2="321.2" stroke="#333" stroke-width="0.5"/>
<text transform="translate(182.2 322.8)" font-size="4.6" text-anchor="end" fill="#111" color="#111" font-weight="bold" font-style="normal">50</text>
<line x1="183.0" y1="336.7" x2="184.2" y2="336.7" stroke="#333" stroke-width="0.5"/>
<text transform="translate(182.2 338.3)" font-size="4.6" text-anchor="end" fill="#111" color="#111" font-weight="bold" font-style="normal">25</text>
<text transform="translate(171.2 321.5) rotate(-90)" font-size="5.0" text-anchor="middle" fill="#111" color="#111" font-weight="bold" font-style="normal">Percent(%)</text>
<rect x="185" y="290.3" width="92" height="62" fill="#f3f7e2"/>
<rect x="186.4" y="290.3" width="3.8" height="62.0" fill="#a2c66e"/>
<rect x="186.4" y="290.3" width="3.8" height="2.0" fill="#84b2d6"/>
<rect x="186.4" y="292.3" width="3.8" height="2.7" fill="#92c8c2"/>
<line x1="188.3" y1="352.3" x2="188.3" y2="354.6" stroke="#333" stroke-width="0.5"/>
<text transform="translate(189.20000000000002 357.6) rotate(-44.5) scale(1 1.1)" font-size="3.75" text-anchor="end" fill="#333" color="#333" font-weight="normal" font-style="normal">Lung_M. tuberculosis_H37Rv_A</text>
<rect x="191.5" y="290.3" width="3.8" height="62.0" fill="#a2c66e"/>
<rect x="191.5" y="290.3" width="3.8" height="2.2" fill="#c45a4e"/>
<rect x="191.5" y="292.5" width="3.8" height="7.5" fill="#f2ac72"/>
<line x1="193.4" y1="352.3" x2="193.4" y2="354.6" stroke="#333" stroke-width="0.5"/>
<text transform="translate(194.3 357.6) rotate(-44.5) scale(1 1.1)" font-size="3.75" text-anchor="end" fill="#333" color="#333" font-weight="normal" font-style="normal">Lung_M. tuberculosis_H37Rv_B</text>
<rect x="196.6" y="290.3" width="3.8" height="62.0" fill="#a2c66e"/>
<rect x="196.6" y="290.3" width="3.8" height="2.5" fill="#c45a4e"/>
<rect x="196.6" y="292.8" width="3.8" height="7.2" fill="#f2ac72"/>
<line x1="198.5" y1="352.3" x2="198.5" y2="354.6" stroke="#333" stroke-width="0.5"/>
<text transform="translate(199.4 357.6) rotate(-44.5) scale(1 1.1)" font-size="3.75" text-anchor="end" fill="#333" color="#333" font-weight="normal" font-style="normal">Lung_M. tuberculosis_HN878</text>
<rect x="201.70000000000002" y="290.3" width="3.8" height="62.0" fill="#a2c66e"/>
<rect x="201.70000000000002" y="290.3" width="3.8" height="1.6" fill="#c45a4e"/>
<rect x="201.70000000000002" y="291.90000000000003" width="3.8" height="4.6" fill="#e07a6c"/>
<rect x="201.70000000000002" y="296.50000000000006" width="3.8" height="7.2" fill="#f2ac72"/>
<line x1="203.60000000000002" y1="352.3" x2="203.60000000000002" y2="354.6" stroke="#333" stroke-width="0.5"/>
<text transform="translate(204.50000000000003 357.6) rotate(-44.5) scale(1 1.1)" font-size="3.75" text-anchor="end" fill="#333" color="#333" font-weight="normal" font-style="normal">Lung_M.avium_A</text>
<rect x="206.8" y="290.3" width="3.8" height="62.0" fill="#a2c66e"/>
<rect x="206.8" y="290.3" width="3.8" height="1.6" fill="#92c8c2"/>
<rect x="206.8" y="291.90000000000003" width="3.8" height="3.0" fill="#e07a6c"/>
<rect x="206.8" y="294.90000000000003" width="3.8" height="7.3" fill="#f2ac72"/>
<line x1="208.70000000000002" y1="352.3" x2="208.70000000000002" y2="354.6" stroke="#333" stroke-width="0.5"/>
<text transform="translate(209.60000000000002 357.6) rotate(-44.5) scale(1 1.1)" font-size="3.75" text-anchor="end" fill="#333" color="#333" font-weight="normal" font-style="normal">Lung_M.avium_B</text>
<rect x="211.9" y="290.3" width="3.8" height="62.0" fill="#a2c66e"/>
<rect x="211.9" y="290.3" width="3.8" height="2.0" fill="#c45a4e"/>
<rect x="211.9" y="292.3" width="3.8" height="1.0" fill="#e07a6c"/>
<rect x="211.9" y="293.3" width="3.8" height="26.2" fill="#f2ac72"/>
<line x1="213.8" y1="352.3" x2="213.8" y2="354.6" stroke="#333" stroke-width="0.5"/>
<text transform="translate(214.70000000000002 357.6) rotate(-44.5) scale(1 1.1)" font-size="3.75" text-anchor="end" fill="#333" color="#333" font-weight="normal" font-style="normal">Lung_A. baumannii_LAC-4</text>
<rect x="217.0" y="290.3" width="3.8" height="62.0" fill="#a2c66e"/>
<rect x="217.0" y="290.3" width="3.8" height="2.2" fill="#84b2d6"/>
<rect x="217.0" y="292.5" width="3.8" height="9.7" fill="#e07a6c"/>
<rect x="217.0" y="302.2" width="3.8" height="1.2" fill="#f4f4ee"/>
<rect x="217.0" y="303.4" width="3.8" height="1.0" fill="#f2ac72"/>
<line x1="218.9" y1="352.3" x2="218.9" y2="354.6" stroke="#333" stroke-width="0.5"/>
<text transform="translate(219.8 357.6) rotate(-44.5) scale(1 1.1)" font-size="3.75" text-anchor="end" fill="#333" color="#333" font-weight="normal" font-style="normal">Lung_S. enterica_BRD509</text>
<rect x="222.1" y="290.3" width="3.8" height="62.0" fill="#a2c66e"/>
<rect x="222.1" y="290.3" width="3.8" height="2.0" fill="#c45a4e"/>
<rect x="222.1" y="292.3" width="3.8" height="1.6" fill="#e07a6c"/>
<rect x="222.1" y="293.90000000000003" width="3.8" height="9.8" fill="#f2ac72"/>
<line x1="224.0" y1="352.3" x2="224.0" y2="354.6" stroke="#333" stroke-width="0.5"/>
<text transform="translate(224.9 357.6) rotate(-44.5) scale(1 1.1)" font-size="3.75" text-anchor="end" fill="#333" color="#333" font-weight="normal" font-style="normal">Lung_B. melitensis_16M</text>
<rect x="227.2" y="290.3" width="3.8" height="62.0" fill="#a2c66e"/>
<rect x="227.2" y="290.3" width="3.8" height="2.0" fill="#c45a4e"/>
<rect x="227.2" y="292.3" width="3.8" height="1.0" fill="#e07a6c"/>
<rect x="227.2" y="293.3" width="3.8" height="5.7" fill="#f2ac72"/>
<line x1="229.1" y1="352.3" x2="229.1" y2="354.6" stroke="#333" stroke-width="0.5"/>
<text transform="translate(230.0 357.6) rotate(-44.5) scale(1 1.1)" font-size="3.75" text-anchor="end" fill="#333" color="#333" font-weight="normal" font-style="normal">Lung_K. pneumoniae_YBQ</text>
<rect x="232.3" y="290.3" width="3.8" height="62.0" fill="#a2c66e"/>
<rect x="232.3" y="290.3" width="3.8" height="2.0" fill="#c45a4e"/>
<rect x="232.3" y="292.3" width="3.8" height="2.0" fill="#e07a6c"/>
<rect x="232.3" y="294.3" width="3.8" height="13.7" fill="#f2ac72"/>
<line x1="234.20000000000002" y1="352.3" x2="234.20000000000002" y2="354.6" stroke="#333" stroke-width="0.5"/>
<text transform="translate(235.10000000000002 357.6) rotate(-44.5) scale(1 1.1)" font-size="3.75" text-anchor="end" fill="#333" color="#333" font-weight="normal" font-style="normal">Lung_C. neoformans_H99</text>
<rect x="237.4" y="290.3" width="3.8" height="62.0" fill="#a2c66e"/>
<rect x="237.4" y="290.3" width="3.8" height="2.0" fill="#c45a4e"/>
<rect x="237.4" y="292.3" width="3.8" height="3.0" fill="#e07a6c"/>
<rect x="237.4" y="295.3" width="3.8" height="9.4" fill="#f2ac72"/>
<line x1="239.3" y1="352.3" x2="239.3" y2="354.6" stroke="#333" stroke-width="0.5"/>
<text transform="translate(240.20000000000002 357.6) rotate(-44.5) scale(1 1.1)" font-size="3.75" text-anchor="end" fill="#333" color="#333" font-weight="normal" font-style="normal">BMDM_Salmonella_SL1344</text>
<rect x="242.5" y="290.3" width="3.8" height="62.0" fill="#a2c66e"/>
<rect x="242.5" y="290.3" width="3.8" height="2.2" fill="#c45a4e"/>
<rect x="242.5" y="292.5" width="3.8" height="3.0" fill="#f2ac72"/>
<line x1="244.4" y1="352.3" x2="244.4" y2="354.6" stroke="#333" stroke-width="0.5"/>
<text transform="translate(245.3 357.6) rotate(-44.5) scale(1 1.1)" font-size="3.75" text-anchor="end" fill="#333" color="#333" font-weight="normal" font-style="normal">BMDM_Listeria_LO28</text>
<rect x="247.6" y="290.3" width="3.8" height="62.0" fill="#a2c66e"/>
<rect x="247.6" y="290.3" width="3.8" height="1.6" fill="#92c8c2"/>
<rect x="247.6" y="291.90000000000003" width="3.8" height="2.2" fill="#e07a6c"/>
<rect x="247.6" y="294.1" width="3.8" height="8.1" fill="#f2ac72"/>
<line x1="249.5" y1="352.3" x2="249.5" y2="354.6" stroke="#333" stroke-width="0.5"/>
<text transform="translate(250.4 357.6) rotate(-44.5) scale(1 1.1)" font-size="3.75" text-anchor="end" fill="#333" color="#333" font-weight="normal" font-style="normal">BMDM_S. pneumoniae_TIGR4</text>
<rect x="252.7" y="290.3" width="3.8" height="62.0" fill="#a2c66e"/>
<rect x="252.7" y="290.3" width="3.8" height="2.0" fill="#c45a4e"/>
<rect x="252.7" y="292.3" width="3.8" height="1.0" fill="#e07a6c"/>
<rect x="252.7" y="293.3" width="3.8" height="8.4" fill="#f2ac72"/>
<line x1="254.6" y1="352.3" x2="254.6" y2="354.6" stroke="#333" stroke-width="0.5"/>
<text transform="translate(255.5 357.6) rotate(-44.5) scale(1 1.1)" font-size="3.75" text-anchor="end" fill="#333" color="#333" font-weight="normal" font-style="normal">Bone_S. aureus</text>
<rect x="257.8" y="290.3" width="3.8" height="62.0" fill="#a2c66e"/>
<rect x="257.8" y="290.3" width="3.8" height="1.8" fill="#92c8c2"/>
<rect x="257.8" y="292.1" width="3.8" height="2.2" fill="#e07a6c"/>
<rect x="257.8" y="294.3" width="3.8" height="1.9" fill="#f2ac72"/>
<line x1="259.7" y1="352.3" x2="259.7" y2="354.6" stroke="#333" stroke-width="0.5"/>
<text transform="translate(260.59999999999997 357.6) rotate(-44.5) scale(1 1.1)" font-size="3.75" text-anchor="end" fill="#333" color="#333" font-weight="normal" font-style="normal">Liver_C. rodentium_DBS100</text>
<rect x="262.9" y="290.3" width="3.8" height="62.0" fill="#a2c66e"/>
<rect x="262.9" y="290.3" width="3.8" height="2.0" fill="#c45a4e"/>
<rect x="262.9" y="292.3" width="3.8" height="1.0" fill="#e07a6c"/>
<rect x="262.9" y="293.3" width="3.8" height="10.4" fill="#f2ac72"/>
<line x1="264.79999999999995" y1="352.3" x2="264.79999999999995" y2="354.6" stroke="#333" stroke-width="0.5"/>
<text transform="translate(265.69999999999993 357.6) rotate(-44.5) scale(1 1.1)" font-size="3.75" text-anchor="end" fill="#333" color="#333" font-weight="normal" font-style="normal">Liver_E. coli_ATCC120104</text>
<rect x="268.0" y="290.3" width="3.8" height="62.0" fill="#a2c66e"/>
<rect x="268.0" y="290.3" width="3.8" height="1.4" fill="#92c8c2"/>
<rect x="268.0" y="291.7" width="3.8" height="3.0" fill="#e07a6c"/>
<rect x="268.0" y="294.7" width="3.8" height="1.5" fill="#f4f4ee"/>
<rect x="268.0" y="296.2" width="3.8" height="29.6" fill="#f2ac72"/>
<line x1="269.9" y1="352.3" x2="269.9" y2="354.6" stroke="#333" stroke-width="0.5"/>
<text transform="translate(270.79999999999995 357.6) rotate(-44.5) scale(1 1.1)" font-size="3.75" text-anchor="end" fill="#333" color="#333" font-weight="normal" font-style="normal">Brain_C. neoformans_H99</text>
<rect x="273.1" y="290.3" width="3.8" height="62.0" fill="#a2c66e"/>
<rect x="273.1" y="290.3" width="3.8" height="2.0" fill="#84b2d6"/>
<rect x="273.1" y="292.3" width="3.8" height="2.8" fill="#e07a6c"/>
<rect x="273.1" y="295.1" width="3.8" height="12.4" fill="#f2ac72"/>
<line x1="275.0" y1="352.3" x2="275.0" y2="354.6" stroke="#333" stroke-width="0.5"/>
<text transform="translate(275.9 357.6) rotate(-44.5) scale(1 1.1)" font-size="3.75" text-anchor="end" fill="#333" color="#333" font-weight="normal" font-style="normal">Mapha_M. tuberculosis_BJN</text>
<rect x="281" y="291.1" width="6" height="3" fill="#c0392b"/>
<text transform="translate(290 294.40000000000003) scale(1 1.18)" font-size="4.4" text-anchor="start" fill="#111" color="#111" font-weight="normal" font-style="normal">stop lost</text>
<rect x="281" y="298.25" width="6" height="3" fill="#5b9bd5"/>
<text transform="translate(290 301.55) scale(1 1.18)" font-size="4.4" text-anchor="start" fill="#111" color="#111" font-weight="normal" font-style="normal">no intron</text>
<rect x="281" y="305.40000000000003" width="6" height="3" fill="#5fb9a5"/>
<text transform="translate(290 308.70000000000005) scale(1 1.18)" font-size="4.4" text-anchor="start" fill="#111" color="#111" font-weight="normal" font-style="normal">synonymous</text>
<rect x="281" y="312.55" width="6" height="3" fill="#e0707a"/>
<text transform="translate(290 315.85) scale(1 1.18)" font-size="4.4" text-anchor="start" fill="#111" color="#111" font-weight="normal" font-style="normal">missense</text>
<rect x="281" y="319.70000000000005" width="6" height="3" fill="#f9f0b8"/>
<text transform="translate(290 323.00000000000006) scale(1 1.18)" font-size="4.4" text-anchor="start" fill="#111" color="#111" font-weight="normal" font-style="normal">5'UTR</text>
<rect x="281" y="326.85" width="6" height="3" fill="#b0b0dd"/>
<text transform="translate(290 330.15000000000003) scale(1 1.18)" font-size="4.4" text-anchor="start" fill="#111" color="#111" font-weight="normal" font-style="normal">no exon</text>
<rect x="281" y="334.0" width="6" height="3" fill="#f0a860"/>
<text transform="translate(290 337.3) scale(1 1.18)" font-size="4.4" text-anchor="start" fill="#111" color="#111" font-weight="normal" font-style="normal">intron</text>
<rect x="281" y="341.15000000000003" width="6" height="3" fill="#90c060"/>
<text transform="translate(290 344.45000000000005) scale(1 1.18)" font-size="4.4" text-anchor="start" fill="#111" color="#111" font-weight="normal" font-style="normal">3'UTR</text>
<rect x="281" y="348.3" width="6" height="3" fill="#555577"/>
<text transform="translate(290 351.6) scale(1 1.18)" font-size="4.4" text-anchor="start" fill="#111" color="#111" font-weight="normal" font-style="normal">coding sequence</text>
</svg></body></html>
